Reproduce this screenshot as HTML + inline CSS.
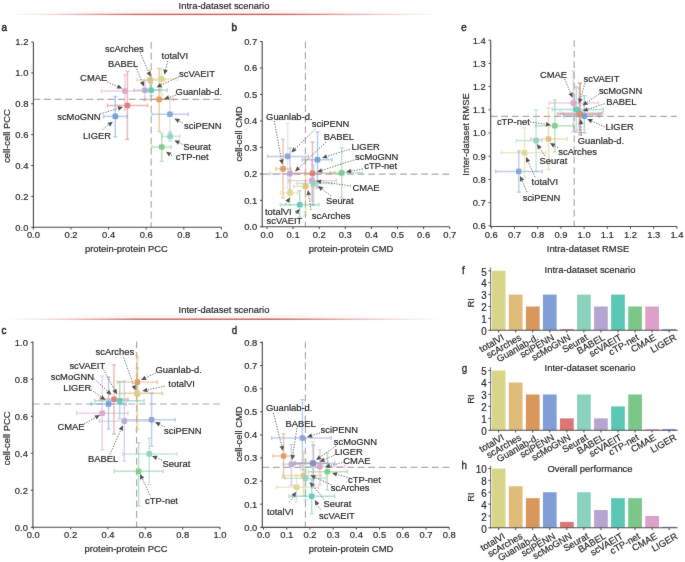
<!DOCTYPE html>
<html><head><meta charset="utf-8"><style>
html,body{margin:0;padding:0;background:#fff;width:685px;height:562px;overflow:hidden}
svg{display:block}
text{font-family:"Liberation Sans",sans-serif;stroke:#262626;stroke-width:0.18px}
</style></head><body><svg width="685" height="562" viewBox="0 0 685 562" font-family="Liberation Sans, sans-serif"><defs><filter id="bl" x="0" y="0" width="685" height="562" filterUnits="userSpaceOnUse" color-interpolation-filters="sRGB"><feConvolveMatrix order="3" kernelMatrix="1 2 1 2 36 2 1 2 1" edgeMode="duplicate" preserveAlpha="true"/></filter>
<linearGradient id="hl" x1="0" x2="1" y1="0" y2="0">
<stop offset="0" stop-color="#c85a50" stop-opacity="0"/>
<stop offset="0.1" stop-color="#c85a50" stop-opacity="0.2"/>
<stop offset="0.3" stop-color="#c24c45" stop-opacity="0.85"/>
<stop offset="0.62" stop-color="#c24c45" stop-opacity="0.9"/>
<stop offset="0.85" stop-color="#c85a50" stop-opacity="0.3"/>
<stop offset="1" stop-color="#c85a50" stop-opacity="0"/>
</linearGradient></defs><g filter="url(#bl)"><rect width="685" height="562" fill="#fff"/>
<line x1="151.2" y1="42" x2="151.2" y2="227.3" stroke="#a9a9a9" stroke-width="1.15" stroke-dasharray="6.8,3.8"/>
<line x1="33.4" y1="99.4" x2="221.4" y2="99.4" stroke="#a9a9a9" stroke-width="1.15" stroke-dasharray="6.8,3.8"/>
<g stroke="#da975c" stroke-width="1.45" opacity="0.5"><line x1="144.6" y1="99.4" x2="173.8" y2="99.4"/><line x1="144.6" y1="97.4" x2="144.6" y2="101.4"/><line x1="173.8" y1="97.4" x2="173.8" y2="101.4"/><g opacity="1.0"><line x1="159.2" y1="68.5" x2="159.2" y2="131.5"/><line x1="157.2" y1="68.5" x2="161.2" y2="68.5"/><line x1="157.2" y1="131.5" x2="161.2" y2="131.5"/></g></g>
<g stroke="#dc7672" stroke-width="1.45" opacity="0.5"><line x1="107.4" y1="105.5" x2="147.6" y2="105.5"/><line x1="107.4" y1="103.5" x2="107.4" y2="107.5"/><line x1="147.6" y1="103.5" x2="147.6" y2="107.5"/><g opacity="1.0"><line x1="127.4" y1="71.4" x2="127.4" y2="139.4"/><line x1="125.4" y1="71.4" x2="129.4" y2="71.4"/><line x1="125.4" y1="139.4" x2="129.4" y2="139.4"/></g></g>
<g stroke="#dba1c9" stroke-width="1.45" opacity="0.5"><line x1="101.6" y1="91" x2="151.1" y2="91"/><line x1="101.6" y1="89" x2="101.6" y2="93"/><line x1="151.1" y1="89" x2="151.1" y2="93"/><g opacity="1.0"><line x1="124.9" y1="74.6" x2="124.9" y2="110"/><line x1="122.9" y1="74.6" x2="126.9" y2="74.6"/><line x1="122.9" y1="110" x2="126.9" y2="110"/></g></g>
<g stroke="#6a9ad6" stroke-width="1.45" opacity="0.5"><line x1="103.5" y1="116.4" x2="126.8" y2="116.4"/><line x1="103.5" y1="114.4" x2="103.5" y2="118.4"/><line x1="126.8" y1="114.4" x2="126.8" y2="118.4"/><g opacity="1.0"><line x1="115.3" y1="96.5" x2="115.3" y2="136.8"/><line x1="113.3" y1="96.5" x2="117.3" y2="96.5"/><line x1="113.3" y1="136.8" x2="117.3" y2="136.8"/></g></g>
<g stroke="#819fd6" stroke-width="1.45" opacity="0.5"><line x1="151.9" y1="114.3" x2="188.2" y2="114.3"/><line x1="151.9" y1="112.3" x2="151.9" y2="116.3"/><line x1="188.2" y1="112.3" x2="188.2" y2="116.3"/><g opacity="0.5"><line x1="169.9" y1="97.7" x2="169.9" y2="132.4"/><line x1="167.9" y1="97.7" x2="171.9" y2="97.7"/><line x1="167.9" y1="132.4" x2="171.9" y2="132.4"/></g></g>
<g stroke="#e0bc7b" stroke-width="1.45" opacity="0.5"><line x1="136.6" y1="80.1" x2="165" y2="80.1"/><line x1="136.6" y1="78.1" x2="136.6" y2="82.1"/><line x1="165" y1="78.1" x2="165" y2="82.1"/><g opacity="1.0"><line x1="150.2" y1="70" x2="150.2" y2="92"/><line x1="148.2" y1="70" x2="152.2" y2="70"/><line x1="148.2" y1="92" x2="152.2" y2="92"/></g></g>
<g stroke="#d9d588" stroke-width="1.45" opacity="0.5"><line x1="148" y1="79" x2="176.8" y2="79"/><line x1="148" y1="77" x2="148" y2="81"/><line x1="176.8" y1="77" x2="176.8" y2="81"/><g opacity="1.0"><line x1="161.4" y1="68.5" x2="161.4" y2="95"/><line x1="159.4" y1="68.5" x2="163.4" y2="68.5"/><line x1="159.4" y1="95" x2="163.4" y2="95"/></g></g>
<g stroke="#b7a5d1" stroke-width="1.45" opacity="0.5"><line x1="134" y1="90.2" x2="160" y2="90.2"/><line x1="134" y1="88.2" x2="134" y2="92.2"/><line x1="160" y1="88.2" x2="160" y2="92.2"/><g opacity="1.0"><line x1="144.9" y1="80" x2="144.9" y2="100"/><line x1="142.9" y1="80" x2="146.9" y2="80"/><line x1="142.9" y1="100" x2="146.9" y2="100"/></g></g>
<g stroke="#5ac8b4" stroke-width="1.45" opacity="0.5"><line x1="143.2" y1="90.2" x2="167.3" y2="90.2"/><line x1="143.2" y1="88.2" x2="143.2" y2="92.2"/><line x1="167.3" y1="88.2" x2="167.3" y2="92.2"/><g opacity="1.0"><line x1="151.2" y1="83.4" x2="151.2" y2="95.8"/><line x1="149.2" y1="83.4" x2="153.2" y2="83.4"/><line x1="149.2" y1="95.8" x2="153.2" y2="95.8"/></g></g>
<g stroke="#8ad1be" stroke-width="1.45" opacity="0.5"><line x1="162.2" y1="136.4" x2="179.7" y2="136.4"/><line x1="162.2" y1="134.4" x2="162.2" y2="138.4"/><line x1="179.7" y1="134.4" x2="179.7" y2="138.4"/><g opacity="1.0"><line x1="170.1" y1="132" x2="170.1" y2="141"/><line x1="168.1" y1="132" x2="172.1" y2="132"/><line x1="168.1" y1="141" x2="172.1" y2="141"/></g></g>
<g stroke="#7bc788" stroke-width="1.45" opacity="0.5"><line x1="151.7" y1="147" x2="171" y2="147"/><line x1="151.7" y1="145" x2="151.7" y2="149"/><line x1="171" y1="145" x2="171" y2="149"/><g opacity="1.0"><line x1="161.7" y1="133.3" x2="161.7" y2="161.3"/><line x1="159.7" y1="133.3" x2="163.7" y2="133.3"/><line x1="159.7" y1="161.3" x2="163.7" y2="161.3"/></g></g>
<rect x="156.4" y="96.6" width="5.6" height="5.6" rx="1.3" fill="#da975c" opacity="0.88"/>
<rect x="124.6" y="102.7" width="5.6" height="5.6" rx="1.3" fill="#dc7672" opacity="0.88"/>
<rect x="122.1" y="88.2" width="5.6" height="5.6" rx="1.3" fill="#dba1c9" opacity="0.88"/>
<rect x="112.5" y="113.6" width="5.6" height="5.6" rx="1.3" fill="#6a9ad6" opacity="0.88"/>
<rect x="167.1" y="111.5" width="5.6" height="5.6" rx="1.3" fill="#819fd6" opacity="0.88"/>
<rect x="147.4" y="77.3" width="5.6" height="5.6" rx="1.3" fill="#e0bc7b" opacity="0.88"/>
<rect x="158.6" y="76.2" width="5.6" height="5.6" rx="1.3" fill="#d9d588" opacity="0.88"/>
<rect x="142.1" y="87.4" width="5.6" height="5.6" rx="1.3" fill="#b7a5d1" opacity="0.88"/>
<rect x="148.4" y="87.4" width="5.6" height="5.6" rx="1.3" fill="#5ac8b4" opacity="0.88"/>
<rect x="167.3" y="133.6" width="5.6" height="5.6" rx="1.3" fill="#8ad1be" opacity="0.88"/>
<rect x="158.9" y="144.2" width="5.6" height="5.6" rx="1.3" fill="#7bc788" opacity="0.88"/>
<line x1="140.1" y1="52.5" x2="148.93" y2="72.94" stroke="#6a6a6a" stroke-width="1" stroke-dasharray="1.3,1.4"/>
<polygon points="150.6,76.8 146.43,72.94 148.66,72.3 150.65,71.11" fill="#505050"/>
<line x1="167.7" y1="61" x2="165.38" y2="70.72" stroke="#6a6a6a" stroke-width="1" stroke-dasharray="1.3,1.4"/>
<polygon points="164.4,74.8 163.37,69.21 165.54,70.03 167.85,70.28" fill="#505050"/>
<line x1="135.5" y1="66.3" x2="142.38" y2="82.73" stroke="#6a6a6a" stroke-width="1" stroke-dasharray="1.3,1.4"/>
<polygon points="144,86.6 139.87,82.69 142.11,82.08 144.11,80.92" fill="#505050"/>
<line x1="178.8" y1="76.8" x2="160.3" y2="85.51" stroke="#6a6a6a" stroke-width="1" stroke-dasharray="1.3,1.4"/>
<polygon points="156.5,87.3 160.22,83 160.93,85.21 162.18,87.17" fill="#505050"/>
<line x1="107.2" y1="82" x2="118.45" y2="86.92" stroke="#6a6a6a" stroke-width="1" stroke-dasharray="1.3,1.4"/>
<polygon points="122.3,88.6 116.61,88.62 117.81,86.64 118.46,84.41" fill="#505050"/>
<line x1="176" y1="95" x2="167.98" y2="97.67" stroke="#6a6a6a" stroke-width="1" stroke-dasharray="1.3,1.4"/>
<polygon points="164,99 168.21,95.17 168.65,97.45 169.66,99.54" fill="#505050"/>
<line x1="100" y1="114" x2="118.98" y2="108.22" stroke="#6a6a6a" stroke-width="1" stroke-dasharray="1.3,1.4"/>
<polygon points="123,107 118.69,110.71 118.31,108.43 117.36,106.31" fill="#505050"/>
<line x1="182.7" y1="123" x2="178.07" y2="120.44" stroke="#6a6a6a" stroke-width="1" stroke-dasharray="1.3,1.4"/>
<polygon points="174.4,118.4 180.06,118.91 178.69,120.78 177.83,122.93" fill="#505050"/>
<line x1="102.5" y1="129.6" x2="109.45" y2="124.34" stroke="#6a6a6a" stroke-width="1" stroke-dasharray="1.3,1.4"/>
<polygon points="112.8,121.8 110.04,126.77 108.89,124.76 107.27,123.11" fill="#505050"/>
<line x1="182.7" y1="144.4" x2="178.18" y2="142.22" stroke="#6a6a6a" stroke-width="1" stroke-dasharray="1.3,1.4"/>
<polygon points="174.4,140.4 180.08,140.59 178.81,142.53 178.09,144.73" fill="#505050"/>
<line x1="172" y1="155.7" x2="169.49" y2="154.03" stroke="#6a6a6a" stroke-width="1" stroke-dasharray="1.3,1.4"/>
<polygon points="166,151.7 171.6,152.67 170.08,154.42 169.05,156.5" fill="#505050"/>
<text transform="translate(105.1 51.6) scale(1 1.06)" font-size="9.4" text-anchor="start" font-weight="normal" fill="#262626" stroke="#262626" stroke-width="0.18" >scArches</text>
<text transform="translate(161.6 59.1) scale(1 1.06)" font-size="9.4" text-anchor="start" font-weight="normal" fill="#262626" stroke="#262626" stroke-width="0.18" >totalVI</text>
<text transform="translate(107.9 66.6) scale(1 1.06)" font-size="9.4" text-anchor="start" font-weight="normal" fill="#262626" stroke="#262626" stroke-width="0.18" >BABEL</text>
<text transform="translate(179.1 76.6) scale(1 1.06)" font-size="9.4" text-anchor="start" font-weight="normal" fill="#262626" stroke="#262626" stroke-width="0.18" >scVAEIT</text>
<text transform="translate(80.1 81) scale(1 1.06)" font-size="9.4" text-anchor="start" font-weight="normal" fill="#262626" stroke="#262626" stroke-width="0.18" >CMAE</text>
<text transform="translate(175.6 94.6) scale(1 1.06)" font-size="9.4" text-anchor="start" font-weight="normal" fill="#262626" stroke="#262626" stroke-width="0.18" >Guanlab-d.</text>
<text transform="translate(57.2 119.9) scale(1 1.06)" font-size="9.4" text-anchor="start" font-weight="normal" fill="#262626" stroke="#262626" stroke-width="0.18" >scMoGNN</text>
<text transform="translate(184.1 128.6) scale(1 1.06)" font-size="9.4" text-anchor="start" font-weight="normal" fill="#262626" stroke="#262626" stroke-width="0.18" >sciPENN</text>
<text transform="translate(82.9 139.1) scale(1 1.06)" font-size="9.4" text-anchor="start" font-weight="normal" fill="#262626" stroke="#262626" stroke-width="0.18" >LIGER</text>
<text transform="translate(183.2 149.8) scale(1 1.06)" font-size="9.4" text-anchor="start" font-weight="normal" fill="#262626" stroke="#262626" stroke-width="0.18" >Seurat</text>
<text transform="translate(175.7 160.3) scale(1 1.06)" font-size="9.4" text-anchor="start" font-weight="normal" fill="#262626" stroke="#262626" stroke-width="0.18" >cTP-net</text>
<line x1="33.4" y1="42" x2="33.4" y2="227.8" stroke="#474747" stroke-width="1.1" />
<line x1="32.9" y1="227.3" x2="221.4" y2="227.3" stroke="#474747" stroke-width="1.1" />
<line x1="33.4" y1="227.3" x2="33.4" y2="229.5" stroke="#474747" stroke-width="1" />
<text transform="translate(33.4 238.3) scale(1 1.06)" font-size="9.4" text-anchor="middle" font-weight="normal" fill="#262626" stroke="#262626" stroke-width="0.18" >0.0</text>
<line x1="71" y1="227.3" x2="71" y2="229.5" stroke="#474747" stroke-width="1" />
<text transform="translate(71 238.3) scale(1 1.06)" font-size="9.4" text-anchor="middle" font-weight="normal" fill="#262626" stroke="#262626" stroke-width="0.18" >0.2</text>
<line x1="108.6" y1="227.3" x2="108.6" y2="229.5" stroke="#474747" stroke-width="1" />
<text transform="translate(108.6 238.3) scale(1 1.06)" font-size="9.4" text-anchor="middle" font-weight="normal" fill="#262626" stroke="#262626" stroke-width="0.18" >0.4</text>
<line x1="146.2" y1="227.3" x2="146.2" y2="229.5" stroke="#474747" stroke-width="1" />
<text transform="translate(146.2 238.3) scale(1 1.06)" font-size="9.4" text-anchor="middle" font-weight="normal" fill="#262626" stroke="#262626" stroke-width="0.18" >0.6</text>
<line x1="183.8" y1="227.3" x2="183.8" y2="229.5" stroke="#474747" stroke-width="1" />
<text transform="translate(183.8 238.3) scale(1 1.06)" font-size="9.4" text-anchor="middle" font-weight="normal" fill="#262626" stroke="#262626" stroke-width="0.18" >0.8</text>
<line x1="221.4" y1="227.3" x2="221.4" y2="229.5" stroke="#474747" stroke-width="1" />
<text transform="translate(221.4 238.3) scale(1 1.06)" font-size="9.4" text-anchor="middle" font-weight="normal" fill="#262626" stroke="#262626" stroke-width="0.18" >1.0</text>
<line x1="31.2" y1="227.3" x2="33.4" y2="227.3" stroke="#474747" stroke-width="1" />
<text transform="translate(28.4 230.6) scale(1 1.06)" font-size="9.4" text-anchor="end" font-weight="normal" fill="#262626" stroke="#262626" stroke-width="0.18" >0.0</text>
<line x1="31.2" y1="196.42" x2="33.4" y2="196.42" stroke="#474747" stroke-width="1" />
<text transform="translate(28.4 199.72) scale(1 1.06)" font-size="9.4" text-anchor="end" font-weight="normal" fill="#262626" stroke="#262626" stroke-width="0.18" >0.2</text>
<line x1="31.2" y1="165.54" x2="33.4" y2="165.54" stroke="#474747" stroke-width="1" />
<text transform="translate(28.4 168.84) scale(1 1.06)" font-size="9.4" text-anchor="end" font-weight="normal" fill="#262626" stroke="#262626" stroke-width="0.18" >0.4</text>
<line x1="31.2" y1="134.66" x2="33.4" y2="134.66" stroke="#474747" stroke-width="1" />
<text transform="translate(28.4 137.96) scale(1 1.06)" font-size="9.4" text-anchor="end" font-weight="normal" fill="#262626" stroke="#262626" stroke-width="0.18" >0.6</text>
<line x1="31.2" y1="103.78" x2="33.4" y2="103.78" stroke="#474747" stroke-width="1" />
<text transform="translate(28.4 107.08) scale(1 1.06)" font-size="9.4" text-anchor="end" font-weight="normal" fill="#262626" stroke="#262626" stroke-width="0.18" >0.8</text>
<line x1="31.2" y1="72.9" x2="33.4" y2="72.9" stroke="#474747" stroke-width="1" />
<text transform="translate(28.4 76.2) scale(1 1.06)" font-size="9.4" text-anchor="end" font-weight="normal" fill="#262626" stroke="#262626" stroke-width="0.18" >1.0</text>
<line x1="31.2" y1="42.02" x2="33.4" y2="42.02" stroke="#474747" stroke-width="1" />
<text transform="translate(28.4 45.32) scale(1 1.06)" font-size="9.4" text-anchor="end" font-weight="normal" fill="#262626" stroke="#262626" stroke-width="0.18" >1.2</text>
<text transform="translate(126.4 251.9) scale(1 1.06)" font-size="9.4" text-anchor="middle" font-weight="normal" fill="#262626" stroke="#262626" stroke-width="0.18" >protein-protein PCC</text>
<text x="7.2" y="136" font-size="9.4" text-anchor="middle" fill="#262626" transform="rotate(-90 7.2 136)" dy="3.3">cell-cell PCC</text>
<line x1="305.4" y1="41.5" x2="305.4" y2="226.8" stroke="#a9a9a9" stroke-width="1.15" stroke-dasharray="6.8,3.8"/>
<line x1="262.2" y1="174.1" x2="449.6" y2="174.1" stroke="#a9a9a9" stroke-width="1.15" stroke-dasharray="6.8,3.8"/>
<g stroke="#819fd6" stroke-width="1.45" opacity="0.5"><line x1="267.6" y1="156.4" x2="308.4" y2="156.4"/><line x1="267.6" y1="154.4" x2="267.6" y2="158.4"/><line x1="308.4" y1="154.4" x2="308.4" y2="158.4"/><g opacity="0.45"><line x1="287.6" y1="123.3" x2="287.6" y2="188"/><line x1="285.6" y1="123.3" x2="289.6" y2="123.3"/><line x1="285.6" y1="188" x2="289.6" y2="188"/></g></g>
<g stroke="#6a9ad6" stroke-width="1.45" opacity="0.5"><line x1="302.3" y1="159.7" x2="332.1" y2="159.7"/><line x1="302.3" y1="157.7" x2="302.3" y2="161.7"/><line x1="332.1" y1="157.7" x2="332.1" y2="161.7"/><g opacity="1.0"><line x1="317.5" y1="132" x2="317.5" y2="188"/><line x1="315.5" y1="132" x2="319.5" y2="132"/><line x1="315.5" y1="188" x2="319.5" y2="188"/></g></g>
<g stroke="#da975c" stroke-width="1.45" opacity="0.5"><line x1="275.7" y1="168.9" x2="290.9" y2="168.9"/><line x1="275.7" y1="166.9" x2="275.7" y2="170.9"/><line x1="290.9" y1="166.9" x2="290.9" y2="170.9"/><g opacity="1.0"><line x1="283" y1="139.4" x2="283" y2="197.8"/><line x1="281" y1="139.4" x2="285" y2="139.4"/><line x1="281" y1="197.8" x2="285" y2="197.8"/></g></g>
<g stroke="#b7a5d1" stroke-width="1.45" opacity="0.5"><line x1="270" y1="173.6" x2="305" y2="173.6"/><line x1="270" y1="171.6" x2="270" y2="175.6"/><line x1="305" y1="171.6" x2="305" y2="175.6"/><g opacity="1.0"><line x1="290" y1="147.9" x2="290" y2="189.9"/><line x1="288" y1="147.9" x2="292" y2="147.9"/><line x1="288" y1="189.9" x2="292" y2="189.9"/></g></g>
<g stroke="#dc7672" stroke-width="1.45" opacity="0.5"><line x1="290" y1="173.3" x2="335" y2="173.3"/><line x1="290" y1="171.3" x2="290" y2="175.3"/><line x1="335" y1="171.3" x2="335" y2="175.3"/><g opacity="1.0"><line x1="312.5" y1="142.2" x2="312.5" y2="205"/><line x1="310.5" y1="142.2" x2="314.5" y2="142.2"/><line x1="310.5" y1="205" x2="314.5" y2="205"/></g></g>
<g stroke="#7bc788" stroke-width="1.45" opacity="0.5"><line x1="330" y1="172.9" x2="361.9" y2="172.9"/><line x1="330" y1="170.9" x2="330" y2="174.9"/><line x1="361.9" y1="170.9" x2="361.9" y2="174.9"/><g opacity="1.0"><line x1="341.7" y1="147.9" x2="341.7" y2="197.8"/><line x1="339.7" y1="147.9" x2="343.7" y2="147.9"/><line x1="339.7" y1="197.8" x2="343.7" y2="197.8"/></g></g>
<g stroke="#dba1c9" stroke-width="1.45" opacity="0.5"><line x1="288.3" y1="180.6" x2="336.5" y2="180.6"/><line x1="288.3" y1="178.6" x2="288.3" y2="182.6"/><line x1="336.5" y1="178.6" x2="336.5" y2="182.6"/><g opacity="1.0"><line x1="311.9" y1="160" x2="311.9" y2="200"/><line x1="309.9" y1="160" x2="313.9" y2="160"/><line x1="309.9" y1="200" x2="313.9" y2="200"/></g></g>
<g stroke="#8ad1be" stroke-width="1.45" opacity="0.5"><line x1="297" y1="183.4" x2="332" y2="183.4"/><line x1="297" y1="181.4" x2="297" y2="185.4"/><line x1="332" y1="181.4" x2="332" y2="185.4"/><g opacity="1.0"><line x1="313.7" y1="165" x2="313.7" y2="205"/><line x1="311.7" y1="165" x2="315.7" y2="165"/><line x1="311.7" y1="205" x2="315.7" y2="205"/></g></g>
<g stroke="#e0bc7b" stroke-width="1.45" opacity="0.5"><line x1="293.5" y1="186.4" x2="317.2" y2="186.4"/><line x1="293.5" y1="184.4" x2="293.5" y2="188.4"/><line x1="317.2" y1="184.4" x2="317.2" y2="188.4"/><g opacity="1.0"><line x1="305.5" y1="157.5" x2="305.5" y2="215.3"/><line x1="303.5" y1="157.5" x2="307.5" y2="157.5"/><line x1="303.5" y1="215.3" x2="307.5" y2="215.3"/></g></g>
<g stroke="#d9d588" stroke-width="1.45" opacity="0.5"><line x1="280.4" y1="192.9" x2="297.9" y2="192.9"/><line x1="280.4" y1="190.9" x2="280.4" y2="194.9"/><line x1="297.9" y1="190.9" x2="297.9" y2="194.9"/><g opacity="1.0"><line x1="290" y1="180" x2="290" y2="205"/><line x1="288" y1="180" x2="292" y2="180"/><line x1="288" y1="205" x2="292" y2="205"/></g></g>
<g stroke="#5ac8b4" stroke-width="1.45" opacity="0.5"><line x1="280.4" y1="204.8" x2="319" y2="204.8"/><line x1="280.4" y1="202.8" x2="280.4" y2="206.8"/><line x1="319" y1="202.8" x2="319" y2="206.8"/><g opacity="1.0"><line x1="299.7" y1="190.8" x2="299.7" y2="217"/><line x1="297.7" y1="190.8" x2="301.7" y2="190.8"/><line x1="297.7" y1="217" x2="301.7" y2="217"/></g></g>
<rect x="284.8" y="153.6" width="5.6" height="5.6" rx="1.3" fill="#819fd6" opacity="0.88"/>
<rect x="314.7" y="156.9" width="5.6" height="5.6" rx="1.3" fill="#6a9ad6" opacity="0.88"/>
<rect x="280.2" y="166.1" width="5.6" height="5.6" rx="1.3" fill="#da975c" opacity="0.88"/>
<rect x="287.2" y="170.8" width="5.6" height="5.6" rx="1.3" fill="#b7a5d1" opacity="0.88"/>
<rect x="309.7" y="170.5" width="5.6" height="5.6" rx="1.3" fill="#dc7672" opacity="0.88"/>
<rect x="338.9" y="170.1" width="5.6" height="5.6" rx="1.3" fill="#7bc788" opacity="0.88"/>
<rect x="309.1" y="177.8" width="5.6" height="5.6" rx="1.3" fill="#dba1c9" opacity="0.88"/>
<rect x="310.9" y="180.6" width="5.6" height="5.6" rx="1.3" fill="#8ad1be" opacity="0.88"/>
<rect x="302.7" y="183.6" width="5.6" height="5.6" rx="1.3" fill="#e0bc7b" opacity="0.88"/>
<rect x="287.2" y="190.1" width="5.6" height="5.6" rx="1.3" fill="#d9d588" opacity="0.88"/>
<rect x="296.9" y="202" width="5.6" height="5.6" rx="1.3" fill="#5ac8b4" opacity="0.88"/>
<line x1="274.3" y1="121" x2="281.54" y2="160.47" stroke="#6a6a6a" stroke-width="1" stroke-dasharray="1.3,1.4"/>
<polygon points="282.3,164.6 279.1,159.9 281.42,159.78 283.62,159.07" fill="#505050"/>
<line x1="315.4" y1="129" x2="294.31" y2="149.47" stroke="#6a6a6a" stroke-width="1" stroke-dasharray="1.3,1.4"/>
<polygon points="291.3,152.4 293.43,147.13 294.82,148.99 296.63,150.43" fill="#505050"/>
<line x1="326" y1="142" x2="298.04" y2="168.6" stroke="#6a6a6a" stroke-width="1" stroke-dasharray="1.3,1.4"/>
<polygon points="295,171.5 297.18,166.25 298.55,168.12 300.35,169.58" fill="#505050"/>
<line x1="350" y1="149" x2="326" y2="156.71" stroke="#6a6a6a" stroke-width="1" stroke-dasharray="1.3,1.4"/>
<polygon points="322,158 326.25,154.22 326.66,156.5 327.65,158.6" fill="#505050"/>
<line x1="354" y1="160" x2="321" y2="170.7" stroke="#6a6a6a" stroke-width="1" stroke-dasharray="1.3,1.4"/>
<polygon points="317,172 321.24,168.21 321.66,170.49 322.66,172.58" fill="#505050"/>
<line x1="363" y1="169" x2="350.14" y2="171.27" stroke="#6a6a6a" stroke-width="1" stroke-dasharray="1.3,1.4"/>
<polygon points="346,172 350.72,168.83 350.83,171.15 351.52,173.36" fill="#505050"/>
<line x1="351" y1="186" x2="320.16" y2="181.59" stroke="#6a6a6a" stroke-width="1" stroke-dasharray="1.3,1.4"/>
<polygon points="316,181 321.47,179.46 320.85,181.69 320.82,184.01" fill="#505050"/>
<line x1="331" y1="196" x2="321.33" y2="188.56" stroke="#6a6a6a" stroke-width="1" stroke-dasharray="1.3,1.4"/>
<polygon points="318,186 323.52,187.35 321.88,188.99 320.72,190.99" fill="#505050"/>
<line x1="311" y1="210" x2="308.62" y2="194.15" stroke="#6a6a6a" stroke-width="1" stroke-dasharray="1.3,1.4"/>
<polygon points="308,190 311.05,194.8 308.73,194.85 306.5,195.48" fill="#505050"/>
<line x1="285.4" y1="204.5" x2="287.78" y2="200.9" stroke="#6a6a6a" stroke-width="1" stroke-dasharray="1.3,1.4"/>
<polygon points="290.1,197.4 289.15,203.01 287.4,201.49 285.31,200.47" fill="#505050"/>
<line x1="295.8" y1="214" x2="297.12" y2="212.19" stroke="#6a6a6a" stroke-width="1" stroke-dasharray="1.3,1.4"/>
<polygon points="299.6,208.8 298.39,214.36 296.71,212.76 294.67,211.64" fill="#505050"/>
<text transform="translate(266.1 119.5) scale(1 1.06)" font-size="9.4" text-anchor="start" font-weight="normal" fill="#262626" stroke="#262626" stroke-width="0.18" >Guanlab-d.</text>
<text transform="translate(311.8 127.2) scale(1 1.06)" font-size="9.4" text-anchor="start" font-weight="normal" fill="#262626" stroke="#262626" stroke-width="0.18" >sciPENN</text>
<text transform="translate(323.8 140) scale(1 1.06)" font-size="9.4" text-anchor="start" font-weight="normal" fill="#262626" stroke="#262626" stroke-width="0.18" >BABEL</text>
<text transform="translate(351.5 149.9) scale(1 1.06)" font-size="9.4" text-anchor="start" font-weight="normal" fill="#262626" stroke="#262626" stroke-width="0.18" >LIGER</text>
<text transform="translate(355 160.4) scale(1 1.06)" font-size="9.4" text-anchor="start" font-weight="normal" fill="#262626" stroke="#262626" stroke-width="0.18" >scMoGNN</text>
<text transform="translate(364.3 169.4) scale(1 1.06)" font-size="9.4" text-anchor="start" font-weight="normal" fill="#262626" stroke="#262626" stroke-width="0.18" >cTP-net</text>
<text transform="translate(352.4 190.8) scale(1 1.06)" font-size="9.4" text-anchor="start" font-weight="normal" fill="#262626" stroke="#262626" stroke-width="0.18" >CMAE</text>
<text transform="translate(325.9 204) scale(1 1.06)" font-size="9.4" text-anchor="start" font-weight="normal" fill="#262626" stroke="#262626" stroke-width="0.18" >Seurat</text>
<text transform="translate(311.8 218.5) scale(1 1.06)" font-size="9.4" text-anchor="start" font-weight="normal" fill="#262626" stroke="#262626" stroke-width="0.18" >scArches</text>
<text transform="translate(265 215) scale(1 1.06)" font-size="9.4" text-anchor="start" font-weight="normal" fill="#262626" stroke="#262626" stroke-width="0.18" >totalVI</text>
<text transform="translate(266.5 224.4) scale(1 1.06)" font-size="9.4" text-anchor="start" font-weight="normal" fill="#262626" stroke="#262626" stroke-width="0.18" >scVAEIT</text>
<line x1="262.2" y1="41.5" x2="262.2" y2="227.3" stroke="#474747" stroke-width="1.1" />
<line x1="261.7" y1="226.8" x2="449.6" y2="226.8" stroke="#474747" stroke-width="1.1" />
<line x1="267" y1="226.8" x2="267" y2="229" stroke="#474747" stroke-width="1" />
<text transform="translate(267 237.8) scale(1 1.06)" font-size="9.4" text-anchor="middle" font-weight="normal" fill="#262626" stroke="#262626" stroke-width="0.18" >0.0</text>
<line x1="293.1" y1="226.8" x2="293.1" y2="229" stroke="#474747" stroke-width="1" />
<text transform="translate(293.1 237.8) scale(1 1.06)" font-size="9.4" text-anchor="middle" font-weight="normal" fill="#262626" stroke="#262626" stroke-width="0.18" >0.1</text>
<line x1="319.2" y1="226.8" x2="319.2" y2="229" stroke="#474747" stroke-width="1" />
<text transform="translate(319.2 237.8) scale(1 1.06)" font-size="9.4" text-anchor="middle" font-weight="normal" fill="#262626" stroke="#262626" stroke-width="0.18" >0.2</text>
<line x1="345.3" y1="226.8" x2="345.3" y2="229" stroke="#474747" stroke-width="1" />
<text transform="translate(345.3 237.8) scale(1 1.06)" font-size="9.4" text-anchor="middle" font-weight="normal" fill="#262626" stroke="#262626" stroke-width="0.18" >0.3</text>
<line x1="371.4" y1="226.8" x2="371.4" y2="229" stroke="#474747" stroke-width="1" />
<text transform="translate(371.4 237.8) scale(1 1.06)" font-size="9.4" text-anchor="middle" font-weight="normal" fill="#262626" stroke="#262626" stroke-width="0.18" >0.4</text>
<line x1="397.5" y1="226.8" x2="397.5" y2="229" stroke="#474747" stroke-width="1" />
<text transform="translate(397.5 237.8) scale(1 1.06)" font-size="9.4" text-anchor="middle" font-weight="normal" fill="#262626" stroke="#262626" stroke-width="0.18" >0.5</text>
<line x1="423.6" y1="226.8" x2="423.6" y2="229" stroke="#474747" stroke-width="1" />
<text transform="translate(423.6 237.8) scale(1 1.06)" font-size="9.4" text-anchor="middle" font-weight="normal" fill="#262626" stroke="#262626" stroke-width="0.18" >0.6</text>
<line x1="449.7" y1="226.8" x2="449.7" y2="229" stroke="#474747" stroke-width="1" />
<text transform="translate(449.7 237.8) scale(1 1.06)" font-size="9.4" text-anchor="middle" font-weight="normal" fill="#262626" stroke="#262626" stroke-width="0.18" >0.7</text>
<line x1="260" y1="226.8" x2="262.2" y2="226.8" stroke="#474747" stroke-width="1" />
<text transform="translate(257.2 230.1) scale(1 1.06)" font-size="9.4" text-anchor="end" font-weight="normal" fill="#262626" stroke="#262626" stroke-width="0.18" >0.0</text>
<line x1="260" y1="200.33" x2="262.2" y2="200.33" stroke="#474747" stroke-width="1" />
<text transform="translate(257.2 203.63) scale(1 1.06)" font-size="9.4" text-anchor="end" font-weight="normal" fill="#262626" stroke="#262626" stroke-width="0.18" >0.1</text>
<line x1="260" y1="173.86" x2="262.2" y2="173.86" stroke="#474747" stroke-width="1" />
<text transform="translate(257.2 177.16) scale(1 1.06)" font-size="9.4" text-anchor="end" font-weight="normal" fill="#262626" stroke="#262626" stroke-width="0.18" >0.2</text>
<line x1="260" y1="147.39" x2="262.2" y2="147.39" stroke="#474747" stroke-width="1" />
<text transform="translate(257.2 150.69) scale(1 1.06)" font-size="9.4" text-anchor="end" font-weight="normal" fill="#262626" stroke="#262626" stroke-width="0.18" >0.3</text>
<line x1="260" y1="120.92" x2="262.2" y2="120.92" stroke="#474747" stroke-width="1" />
<text transform="translate(257.2 124.22) scale(1 1.06)" font-size="9.4" text-anchor="end" font-weight="normal" fill="#262626" stroke="#262626" stroke-width="0.18" >0.4</text>
<line x1="260" y1="94.45" x2="262.2" y2="94.45" stroke="#474747" stroke-width="1" />
<text transform="translate(257.2 97.75) scale(1 1.06)" font-size="9.4" text-anchor="end" font-weight="normal" fill="#262626" stroke="#262626" stroke-width="0.18" >0.5</text>
<line x1="260" y1="67.98" x2="262.2" y2="67.98" stroke="#474747" stroke-width="1" />
<text transform="translate(257.2 71.28) scale(1 1.06)" font-size="9.4" text-anchor="end" font-weight="normal" fill="#262626" stroke="#262626" stroke-width="0.18" >0.6</text>
<line x1="260" y1="41.51" x2="262.2" y2="41.51" stroke="#474747" stroke-width="1" />
<text transform="translate(257.2 44.81) scale(1 1.06)" font-size="9.4" text-anchor="end" font-weight="normal" fill="#262626" stroke="#262626" stroke-width="0.18" >0.7</text>
<text transform="translate(351 251.9) scale(1 1.06)" font-size="9.4" text-anchor="middle" font-weight="normal" fill="#262626" stroke="#262626" stroke-width="0.18" >protein-protein CMD</text>
<text x="239" y="134" font-size="9.4" text-anchor="middle" fill="#262626" transform="rotate(-90 239 134)" dy="3.3">cell-cell CMD</text>
<line x1="574.2" y1="40.2" x2="574.2" y2="226.5" stroke="#a9a9a9" stroke-width="1.15" stroke-dasharray="6.8,3.8"/>
<line x1="490.7" y1="116.4" x2="676.8" y2="116.4" stroke="#a9a9a9" stroke-width="1.15" stroke-dasharray="6.8,3.8"/>
<g stroke="#b7a5d1" stroke-width="1.45" opacity="0.5"><line x1="560" y1="113" x2="603" y2="113"/><line x1="560" y1="111" x2="560" y2="115"/><line x1="603" y1="111" x2="603" y2="115"/><g opacity="1.0"><line x1="579" y1="88" x2="579" y2="130"/><line x1="577" y1="88" x2="581" y2="88"/><line x1="577" y1="130" x2="581" y2="130"/></g></g>
<g stroke="#dc7672" stroke-width="1.45" opacity="0.5"><line x1="557.5" y1="114" x2="601.3" y2="114"/><line x1="557.5" y1="112" x2="557.5" y2="116"/><line x1="601.3" y1="112" x2="601.3" y2="116"/><g opacity="1.0"><line x1="580" y1="83.2" x2="580" y2="134.9"/><line x1="578" y1="83.2" x2="582" y2="83.2"/><line x1="578" y1="134.9" x2="582" y2="134.9"/></g></g>
<g stroke="#da975c" stroke-width="1.45" opacity="0.5"><line x1="563" y1="114.6" x2="598.5" y2="114.6"/><line x1="563" y1="112.6" x2="563" y2="116.6"/><line x1="598.5" y1="112.6" x2="598.5" y2="116.6"/><g opacity="1.0"><line x1="580" y1="83.2" x2="580" y2="133"/><line x1="578" y1="83.2" x2="582" y2="83.2"/><line x1="578" y1="133" x2="582" y2="133"/></g></g>
<g stroke="#dba1c9" stroke-width="1.45" opacity="0.5"><line x1="549.3" y1="103" x2="598.4" y2="103"/><line x1="549.3" y1="101" x2="549.3" y2="105"/><line x1="598.4" y1="101" x2="598.4" y2="105"/><g opacity="1.0"><line x1="573.4" y1="71" x2="573.4" y2="132"/><line x1="571.4" y1="71" x2="575.4" y2="71"/><line x1="571.4" y1="132" x2="575.4" y2="132"/></g></g>
<g stroke="#5ac8b4" stroke-width="1.45" opacity="0.5"><line x1="552.2" y1="109.5" x2="603.3" y2="109.5"/><line x1="552.2" y1="107.5" x2="552.2" y2="111.5"/><line x1="603.3" y1="107.5" x2="603.3" y2="111.5"/><g opacity="1.0"><line x1="576.3" y1="86.9" x2="576.3" y2="132.2"/><line x1="574.3" y1="86.9" x2="578.3" y2="86.9"/><line x1="574.3" y1="132.2" x2="578.3" y2="132.2"/></g></g>
<g stroke="#6a9ad6" stroke-width="1.45" opacity="0.5"><line x1="563.9" y1="116.2" x2="599.6" y2="116.2"/><line x1="563.9" y1="114.2" x2="563.9" y2="118.2"/><line x1="599.6" y1="114.2" x2="599.6" y2="118.2"/><g opacity="1.0"><line x1="584.3" y1="95.7" x2="584.3" y2="132.9"/><line x1="582.3" y1="95.7" x2="586.3" y2="95.7"/><line x1="582.3" y1="132.9" x2="586.3" y2="132.9"/></g></g>
<g stroke="#7bc788" stroke-width="1.45" opacity="0.5"><line x1="536" y1="125.7" x2="573.5" y2="125.7"/><line x1="536" y1="123.7" x2="536" y2="127.7"/><line x1="573.5" y1="123.7" x2="573.5" y2="127.7"/><g opacity="1.0"><line x1="554.8" y1="100" x2="554.8" y2="151.8"/><line x1="552.8" y1="100" x2="556.8" y2="100"/><line x1="552.8" y1="151.8" x2="556.8" y2="151.8"/></g></g>
<g stroke="#8ad1be" stroke-width="1.45" opacity="0.5"><line x1="516.5" y1="140.6" x2="542.3" y2="140.6"/><line x1="516.5" y1="138.6" x2="516.5" y2="142.6"/><line x1="542.3" y1="138.6" x2="542.3" y2="142.6"/><g opacity="1.0"><line x1="536.1" y1="110" x2="536.1" y2="171.4"/><line x1="534.1" y1="110" x2="538.1" y2="110"/><line x1="534.1" y1="171.4" x2="538.1" y2="171.4"/></g></g>
<g stroke="#e0bc7b" stroke-width="1.45" opacity="0.5"><line x1="530.7" y1="139" x2="567.2" y2="139"/><line x1="530.7" y1="137" x2="530.7" y2="141"/><line x1="567.2" y1="137" x2="567.2" y2="141"/><g opacity="1.0"><line x1="548.5" y1="108" x2="548.5" y2="169.6"/><line x1="546.5" y1="108" x2="550.5" y2="108"/><line x1="546.5" y1="169.6" x2="550.5" y2="169.6"/></g></g>
<g stroke="#d9d588" stroke-width="1.45" opacity="0.5"><line x1="501.4" y1="152.7" x2="545.9" y2="152.7"/><line x1="501.4" y1="150.7" x2="501.4" y2="154.7"/><line x1="545.9" y1="150.7" x2="545.9" y2="154.7"/><g opacity="1.0"><line x1="524.5" y1="127.8" x2="524.5" y2="176.8"/><line x1="522.5" y1="127.8" x2="526.5" y2="127.8"/><line x1="522.5" y1="176.8" x2="526.5" y2="176.8"/></g></g>
<g stroke="#819fd6" stroke-width="1.45" opacity="0.5"><line x1="495.7" y1="171.4" x2="542.3" y2="171.4"/><line x1="495.7" y1="169.4" x2="495.7" y2="173.4"/><line x1="542.3" y1="169.4" x2="542.3" y2="173.4"/><g opacity="1.0"><line x1="518.8" y1="151" x2="518.8" y2="192.2"/><line x1="516.8" y1="151" x2="520.8" y2="151"/><line x1="516.8" y1="192.2" x2="520.8" y2="192.2"/></g></g>
<rect x="576.2" y="110.2" width="5.6" height="5.6" rx="1.3" fill="#b7a5d1" opacity="0.88"/>
<rect x="577.2" y="111.2" width="5.6" height="5.6" rx="1.3" fill="#dc7672" opacity="0.88"/>
<rect x="577.2" y="111.8" width="5.6" height="5.6" rx="1.3" fill="#da975c" opacity="0.88"/>
<rect x="570.6" y="100.2" width="5.6" height="5.6" rx="1.3" fill="#dba1c9" opacity="0.88"/>
<rect x="573.5" y="106.7" width="5.6" height="5.6" rx="1.3" fill="#5ac8b4" opacity="0.88"/>
<rect x="581.5" y="113.4" width="5.6" height="5.6" rx="1.3" fill="#6a9ad6" opacity="0.88"/>
<rect x="552" y="122.9" width="5.6" height="5.6" rx="1.3" fill="#7bc788" opacity="0.88"/>
<rect x="533.3" y="137.8" width="5.6" height="5.6" rx="1.3" fill="#8ad1be" opacity="0.88"/>
<rect x="545.7" y="136.2" width="5.6" height="5.6" rx="1.3" fill="#e0bc7b" opacity="0.88"/>
<rect x="521.7" y="149.9" width="5.6" height="5.6" rx="1.3" fill="#d9d588" opacity="0.88"/>
<rect x="516" y="168.6" width="5.6" height="5.6" rx="1.3" fill="#819fd6" opacity="0.88"/>
<line x1="564.6" y1="78.9" x2="570.96" y2="93.93" stroke="#6a6a6a" stroke-width="1" stroke-dasharray="1.3,1.4"/>
<polygon points="572.6,97.8 568.45,93.91 570.69,93.29 572.69,92.11" fill="#505050"/>
<line x1="585" y1="83.2" x2="580.19" y2="99.47" stroke="#6a6a6a" stroke-width="1" stroke-dasharray="1.3,1.4"/>
<polygon points="579,103.5 578.27,97.86 580.39,98.8 582.68,99.17" fill="#505050"/>
<line x1="598.9" y1="94.2" x2="585.96" y2="103.12" stroke="#6a6a6a" stroke-width="1" stroke-dasharray="1.3,1.4"/>
<polygon points="582.5,105.5 585.48,100.66 586.53,102.72 588.09,104.44" fill="#505050"/>
<line x1="604.7" y1="103.7" x2="586.78" y2="109.67" stroke="#6a6a6a" stroke-width="1" stroke-dasharray="1.3,1.4"/>
<polygon points="582.8,111 587.01,107.17 587.45,109.45 588.46,111.54" fill="#505050"/>
<line x1="604.7" y1="127" x2="591.02" y2="120.75" stroke="#6a6a6a" stroke-width="1" stroke-dasharray="1.3,1.4"/>
<polygon points="587.2,119 592.89,119.07 591.66,121.04 590.97,123.25" fill="#505050"/>
<line x1="581.4" y1="135.8" x2="580.87" y2="123.2" stroke="#6a6a6a" stroke-width="1" stroke-dasharray="1.3,1.4"/>
<polygon points="580.7,119 583.21,124.1 580.9,123.9 578.62,124.29" fill="#505050"/>
<line x1="530" y1="122" x2="546.84" y2="124.41" stroke="#6a6a6a" stroke-width="1" stroke-dasharray="1.3,1.4"/>
<polygon points="551,125 545.53,126.54 546.15,124.31 546.18,121.99" fill="#505050"/>
<line x1="558" y1="148" x2="553.56" y2="145.23" stroke="#6a6a6a" stroke-width="1" stroke-dasharray="1.3,1.4"/>
<polygon points="550,143 555.63,143.81 554.16,145.6 553.19,147.71" fill="#505050"/>
<line x1="545" y1="156" x2="539.33" y2="147.49" stroke="#6a6a6a" stroke-width="1" stroke-dasharray="1.3,1.4"/>
<polygon points="537,144 541.8,147.05 539.72,148.08 537.97,149.6" fill="#505050"/>
<line x1="535" y1="177" x2="527.72" y2="160.83" stroke="#6a6a6a" stroke-width="1" stroke-dasharray="1.3,1.4"/>
<polygon points="526,157 530.23,160.8 528.01,161.47 526.04,162.69" fill="#505050"/>
<line x1="527" y1="192" x2="521.68" y2="179.85" stroke="#6a6a6a" stroke-width="1" stroke-dasharray="1.3,1.4"/>
<polygon points="520,176 524.19,179.84 521.96,180.49 519.98,181.69" fill="#505050"/>
<text transform="translate(540 77.8) scale(1 1.06)" font-size="9.4" text-anchor="start" font-weight="normal" fill="#262626" stroke="#262626" stroke-width="0.18" >CMAE</text>
<text transform="translate(583.6 82.3) scale(1 1.06)" font-size="9.4" text-anchor="start" font-weight="normal" fill="#262626" stroke="#262626" stroke-width="0.18" >scVAEIT</text>
<text transform="translate(598.9 94.4) scale(1 1.06)" font-size="9.4" text-anchor="start" font-weight="normal" fill="#262626" stroke="#262626" stroke-width="0.18" >scMoGNN</text>
<text transform="translate(606.2 104.9) scale(1 1.06)" font-size="9.4" text-anchor="start" font-weight="normal" fill="#262626" stroke="#262626" stroke-width="0.18" >BABEL</text>
<text transform="translate(605.5 130.4) scale(1 1.06)" font-size="9.4" text-anchor="start" font-weight="normal" fill="#262626" stroke="#262626" stroke-width="0.18" >LIGER</text>
<text transform="translate(577.7 143.6) scale(1 1.06)" font-size="9.4" text-anchor="start" font-weight="normal" fill="#262626" stroke="#262626" stroke-width="0.18" >Guanlab-d.</text>
<text transform="translate(496.9 125) scale(1 1.06)" font-size="9.4" text-anchor="start" font-weight="normal" fill="#262626" stroke="#262626" stroke-width="0.18" >cTP-net</text>
<text transform="translate(558.3 155.2) scale(1 1.06)" font-size="9.4" text-anchor="start" font-weight="normal" fill="#262626" stroke="#262626" stroke-width="0.18" >scArches</text>
<text transform="translate(539.6 164.1) scale(1 1.06)" font-size="9.4" text-anchor="start" font-weight="normal" fill="#262626" stroke="#262626" stroke-width="0.18" >Seurat</text>
<text transform="translate(531.6 184.6) scale(1 1.06)" font-size="9.4" text-anchor="start" font-weight="normal" fill="#262626" stroke="#262626" stroke-width="0.18" >totalVI</text>
<text transform="translate(522.7 201) scale(1 1.06)" font-size="9.4" text-anchor="start" font-weight="normal" fill="#262626" stroke="#262626" stroke-width="0.18" >sciPENN</text>
<line x1="490.7" y1="40.2" x2="490.7" y2="227" stroke="#474747" stroke-width="1.1" />
<line x1="490.2" y1="226.5" x2="676.8" y2="226.5" stroke="#474747" stroke-width="1.1" />
<line x1="491.3" y1="226.5" x2="491.3" y2="228.7" stroke="#474747" stroke-width="1" />
<text transform="translate(491.3 237.5) scale(1 1.06)" font-size="9.4" text-anchor="middle" font-weight="normal" fill="#262626" stroke="#262626" stroke-width="0.18" >0.6</text>
<line x1="514.5" y1="226.5" x2="514.5" y2="228.7" stroke="#474747" stroke-width="1" />
<text transform="translate(514.5 237.5) scale(1 1.06)" font-size="9.4" text-anchor="middle" font-weight="normal" fill="#262626" stroke="#262626" stroke-width="0.18" >0.7</text>
<line x1="537.7" y1="226.5" x2="537.7" y2="228.7" stroke="#474747" stroke-width="1" />
<text transform="translate(537.7 237.5) scale(1 1.06)" font-size="9.4" text-anchor="middle" font-weight="normal" fill="#262626" stroke="#262626" stroke-width="0.18" >0.8</text>
<line x1="560.9" y1="226.5" x2="560.9" y2="228.7" stroke="#474747" stroke-width="1" />
<text transform="translate(560.9 237.5) scale(1 1.06)" font-size="9.4" text-anchor="middle" font-weight="normal" fill="#262626" stroke="#262626" stroke-width="0.18" >0.9</text>
<line x1="584.1" y1="226.5" x2="584.1" y2="228.7" stroke="#474747" stroke-width="1" />
<text transform="translate(584.1 237.5) scale(1 1.06)" font-size="9.4" text-anchor="middle" font-weight="normal" fill="#262626" stroke="#262626" stroke-width="0.18" >1.0</text>
<line x1="607.3" y1="226.5" x2="607.3" y2="228.7" stroke="#474747" stroke-width="1" />
<text transform="translate(607.3 237.5) scale(1 1.06)" font-size="9.4" text-anchor="middle" font-weight="normal" fill="#262626" stroke="#262626" stroke-width="0.18" >1.1</text>
<line x1="630.5" y1="226.5" x2="630.5" y2="228.7" stroke="#474747" stroke-width="1" />
<text transform="translate(630.5 237.5) scale(1 1.06)" font-size="9.4" text-anchor="middle" font-weight="normal" fill="#262626" stroke="#262626" stroke-width="0.18" >1.2</text>
<line x1="653.7" y1="226.5" x2="653.7" y2="228.7" stroke="#474747" stroke-width="1" />
<text transform="translate(653.7 237.5) scale(1 1.06)" font-size="9.4" text-anchor="middle" font-weight="normal" fill="#262626" stroke="#262626" stroke-width="0.18" >1.3</text>
<line x1="676.9" y1="226.5" x2="676.9" y2="228.7" stroke="#474747" stroke-width="1" />
<text transform="translate(676.9 237.5) scale(1 1.06)" font-size="9.4" text-anchor="middle" font-weight="normal" fill="#262626" stroke="#262626" stroke-width="0.18" >1.4</text>
<line x1="488.5" y1="225.8" x2="490.7" y2="225.8" stroke="#474747" stroke-width="1" />
<text transform="translate(485.7 229.1) scale(1 1.06)" font-size="9.4" text-anchor="end" font-weight="normal" fill="#262626" stroke="#262626" stroke-width="0.18" >0.6</text>
<line x1="488.5" y1="202.6" x2="490.7" y2="202.6" stroke="#474747" stroke-width="1" />
<text transform="translate(485.7 205.9) scale(1 1.06)" font-size="9.4" text-anchor="end" font-weight="normal" fill="#262626" stroke="#262626" stroke-width="0.18" >0.7</text>
<line x1="488.5" y1="179.4" x2="490.7" y2="179.4" stroke="#474747" stroke-width="1" />
<text transform="translate(485.7 182.7) scale(1 1.06)" font-size="9.4" text-anchor="end" font-weight="normal" fill="#262626" stroke="#262626" stroke-width="0.18" >0.8</text>
<line x1="488.5" y1="156.2" x2="490.7" y2="156.2" stroke="#474747" stroke-width="1" />
<text transform="translate(485.7 159.5) scale(1 1.06)" font-size="9.4" text-anchor="end" font-weight="normal" fill="#262626" stroke="#262626" stroke-width="0.18" >0.9</text>
<line x1="488.5" y1="133" x2="490.7" y2="133" stroke="#474747" stroke-width="1" />
<text transform="translate(485.7 136.3) scale(1 1.06)" font-size="9.4" text-anchor="end" font-weight="normal" fill="#262626" stroke="#262626" stroke-width="0.18" >1.0</text>
<line x1="488.5" y1="109.8" x2="490.7" y2="109.8" stroke="#474747" stroke-width="1" />
<text transform="translate(485.7 113.1) scale(1 1.06)" font-size="9.4" text-anchor="end" font-weight="normal" fill="#262626" stroke="#262626" stroke-width="0.18" >1.1</text>
<line x1="488.5" y1="86.6" x2="490.7" y2="86.6" stroke="#474747" stroke-width="1" />
<text transform="translate(485.7 89.9) scale(1 1.06)" font-size="9.4" text-anchor="end" font-weight="normal" fill="#262626" stroke="#262626" stroke-width="0.18" >1.2</text>
<line x1="488.5" y1="63.4" x2="490.7" y2="63.4" stroke="#474747" stroke-width="1" />
<text transform="translate(485.7 66.7) scale(1 1.06)" font-size="9.4" text-anchor="end" font-weight="normal" fill="#262626" stroke="#262626" stroke-width="0.18" >1.3</text>
<line x1="488.5" y1="40.2" x2="490.7" y2="40.2" stroke="#474747" stroke-width="1" />
<text transform="translate(485.7 43.5) scale(1 1.06)" font-size="9.4" text-anchor="end" font-weight="normal" fill="#262626" stroke="#262626" stroke-width="0.18" >1.4</text>
<text transform="translate(588 251.9) scale(1 1.06)" font-size="9.4" text-anchor="middle" font-weight="normal" fill="#262626" stroke="#262626" stroke-width="0.18" >Intra-dataset RMSE</text>
<text x="465.8" y="134.5" font-size="9.4" text-anchor="middle" fill="#262626" transform="rotate(-90 465.8 134.5)" dy="3.3">Inter-dataset RMSE</text>
<line x1="136.6" y1="341.4" x2="136.6" y2="527.3" stroke="#a9a9a9" stroke-width="1.15" stroke-dasharray="6.8,3.8"/>
<line x1="32.9" y1="404" x2="220" y2="404" stroke="#a9a9a9" stroke-width="1.15" stroke-dasharray="6.8,3.8"/>
<g stroke="#e0bc7b" stroke-width="1.45" opacity="0.5"><line x1="120" y1="393.3" x2="162" y2="393.3"/><line x1="120" y1="391.3" x2="120" y2="395.3"/><line x1="162" y1="391.3" x2="162" y2="395.3"/><g opacity="1.0"><line x1="137" y1="356" x2="137" y2="430"/><line x1="135" y1="356" x2="139" y2="356"/><line x1="135" y1="430" x2="139" y2="430"/></g></g>
<g stroke="#da975c" stroke-width="1.45" opacity="0.5"><line x1="117.4" y1="382.1" x2="157.3" y2="382.1"/><line x1="117.4" y1="380.1" x2="117.4" y2="384.1"/><line x1="157.3" y1="380.1" x2="157.3" y2="384.1"/><g opacity="1.0"><line x1="137.4" y1="368" x2="137.4" y2="396"/><line x1="135.4" y1="368" x2="139.4" y2="368"/><line x1="135.4" y1="396" x2="139.4" y2="396"/></g></g>
<g stroke="#d9d588" stroke-width="1.45" opacity="0.5"><line x1="118.4" y1="393.5" x2="163" y2="393.5"/><line x1="118.4" y1="391.5" x2="118.4" y2="395.5"/><line x1="163" y1="391.5" x2="163" y2="395.5"/><g opacity="1.0"><line x1="137.4" y1="358" x2="137.4" y2="429.2"/><line x1="135.4" y1="358" x2="139.4" y2="358"/><line x1="135.4" y1="429.2" x2="139.4" y2="429.2"/></g></g>
<g stroke="#6a9ad6" stroke-width="1.45" opacity="0.5"><line x1="91.2" y1="404" x2="126.1" y2="404"/><line x1="91.2" y1="402" x2="91.2" y2="406"/><line x1="126.1" y1="402" x2="126.1" y2="406"/><g opacity="1.0"><line x1="108.5" y1="377" x2="108.5" y2="429"/><line x1="106.5" y1="377" x2="110.5" y2="377"/><line x1="106.5" y1="429" x2="110.5" y2="429"/></g></g>
<g stroke="#dc7672" stroke-width="1.45" opacity="0.5"><line x1="100" y1="399.2" x2="128" y2="399.2"/><line x1="100" y1="397.2" x2="100" y2="401.2"/><line x1="128" y1="397.2" x2="128" y2="401.2"/><g opacity="1.0"><line x1="114" y1="364.7" x2="114" y2="434"/><line x1="112" y1="364.7" x2="116" y2="364.7"/><line x1="112" y1="434" x2="116" y2="434"/></g></g>
<g stroke="#5ac8b4" stroke-width="1.45" opacity="0.5"><line x1="94.7" y1="400.7" x2="144" y2="400.7"/><line x1="94.7" y1="398.7" x2="94.7" y2="402.7"/><line x1="144" y1="398.7" x2="144" y2="402.7"/><g opacity="1.0"><line x1="119.7" y1="381.8" x2="119.7" y2="418.8"/><line x1="117.7" y1="381.8" x2="121.7" y2="381.8"/><line x1="117.7" y1="418.8" x2="121.7" y2="418.8"/></g></g>
<g stroke="#dba1c9" stroke-width="1.45" opacity="0.5"><line x1="76.6" y1="413.2" x2="127.9" y2="413.2"/><line x1="76.6" y1="411.2" x2="76.6" y2="415.2"/><line x1="127.9" y1="411.2" x2="127.9" y2="415.2"/><g opacity="1.0"><line x1="102.2" y1="376" x2="102.2" y2="449.7"/><line x1="100.2" y1="376" x2="104.2" y2="376"/><line x1="100.2" y1="449.7" x2="104.2" y2="449.7"/></g></g>
<g stroke="#b7a5d1" stroke-width="1.45" opacity="0.5"><line x1="99.4" y1="421.1" x2="151.6" y2="421.1"/><line x1="99.4" y1="419.1" x2="99.4" y2="423.1"/><line x1="151.6" y1="419.1" x2="151.6" y2="423.1"/><g opacity="1.0"><line x1="124.3" y1="381" x2="124.3" y2="460.9"/><line x1="122.3" y1="381" x2="126.3" y2="381"/><line x1="122.3" y1="460.9" x2="126.3" y2="460.9"/></g></g>
<g stroke="#819fd6" stroke-width="1.45" opacity="0.5"><line x1="125" y1="419.8" x2="175.3" y2="419.8"/><line x1="125" y1="417.8" x2="125" y2="421.8"/><line x1="175.3" y1="417.8" x2="175.3" y2="421.8"/><g opacity="1.0"><line x1="151.6" y1="393" x2="151.6" y2="446.2"/><line x1="149.6" y1="393" x2="153.6" y2="393"/><line x1="149.6" y1="446.2" x2="153.6" y2="446.2"/></g></g>
<g stroke="#8ad1be" stroke-width="1.45" opacity="0.5"><line x1="122.9" y1="453.9" x2="176.7" y2="453.9"/><line x1="122.9" y1="451.9" x2="122.9" y2="455.9"/><line x1="176.7" y1="451.9" x2="176.7" y2="455.9"/><g opacity="1.0"><line x1="149.3" y1="438" x2="149.3" y2="484.7"/><line x1="147.3" y1="438" x2="151.3" y2="438"/><line x1="147.3" y1="484.7" x2="151.3" y2="484.7"/></g></g>
<g stroke="#7bc788" stroke-width="1.45" opacity="0.5"><line x1="114.3" y1="471.2" x2="163.3" y2="471.2"/><line x1="114.3" y1="469.2" x2="114.3" y2="473.2"/><line x1="163.3" y1="469.2" x2="163.3" y2="473.2"/><g opacity="1.0"><line x1="138.6" y1="442.7" x2="138.6" y2="506"/><line x1="136.6" y1="442.7" x2="140.6" y2="442.7"/><line x1="136.6" y1="506" x2="140.6" y2="506"/></g></g>
<rect x="134.2" y="390.5" width="5.6" height="5.6" rx="1.3" fill="#e0bc7b" opacity="0.88"/>
<rect x="134.6" y="379.3" width="5.6" height="5.6" rx="1.3" fill="#da975c" opacity="0.88"/>
<rect x="134.6" y="390.7" width="5.6" height="5.6" rx="1.3" fill="#d9d588" opacity="0.88"/>
<rect x="105.7" y="401.2" width="5.6" height="5.6" rx="1.3" fill="#6a9ad6" opacity="0.88"/>
<rect x="111.2" y="396.4" width="5.6" height="5.6" rx="1.3" fill="#dc7672" opacity="0.88"/>
<rect x="116.9" y="397.9" width="5.6" height="5.6" rx="1.3" fill="#5ac8b4" opacity="0.88"/>
<rect x="99.4" y="410.4" width="5.6" height="5.6" rx="1.3" fill="#dba1c9" opacity="0.88"/>
<rect x="121.5" y="418.3" width="5.6" height="5.6" rx="1.3" fill="#b7a5d1" opacity="0.88"/>
<rect x="148.8" y="417" width="5.6" height="5.6" rx="1.3" fill="#819fd6" opacity="0.88"/>
<rect x="146.5" y="451.1" width="5.6" height="5.6" rx="1.3" fill="#8ad1be" opacity="0.88"/>
<rect x="135.8" y="468.4" width="5.6" height="5.6" rx="1.3" fill="#7bc788" opacity="0.88"/>
<line x1="123.6" y1="357.5" x2="134.08" y2="386.55" stroke="#6a6a6a" stroke-width="1" stroke-dasharray="1.3,1.4"/>
<polygon points="135.5,390.5 131.57,386.39 133.84,385.89 135.9,384.83" fill="#505050"/>
<line x1="103.5" y1="369.5" x2="115" y2="390.71" stroke="#6a6a6a" stroke-width="1" stroke-dasharray="1.3,1.4"/>
<polygon points="117,394.4 112.5,390.92 114.66,390.09 116.54,388.73" fill="#505050"/>
<line x1="94.3" y1="378.7" x2="108.36" y2="392.1" stroke="#6a6a6a" stroke-width="1" stroke-dasharray="1.3,1.4"/>
<polygon points="111.4,395 106.05,393.08 107.85,391.62 109.22,389.75" fill="#505050"/>
<line x1="91" y1="389.8" x2="102.06" y2="397.58" stroke="#6a6a6a" stroke-width="1" stroke-dasharray="1.3,1.4"/>
<polygon points="105.5,400 99.92,398.89 101.49,397.18 102.57,395.13" fill="#505050"/>
<line x1="156" y1="373" x2="144.81" y2="378.22" stroke="#6a6a6a" stroke-width="1" stroke-dasharray="1.3,1.4"/>
<polygon points="141,380 144.74,375.72 145.44,377.93 146.68,379.89" fill="#505050"/>
<line x1="164.8" y1="386.1" x2="146.4" y2="390.19" stroke="#6a6a6a" stroke-width="1" stroke-dasharray="1.3,1.4"/>
<polygon points="142.3,391.1 146.88,387.73 147.08,390.04 147.88,392.22" fill="#505050"/>
<line x1="84" y1="424" x2="96.34" y2="417.06" stroke="#6a6a6a" stroke-width="1" stroke-dasharray="1.3,1.4"/>
<polygon points="100,415 96.6,419.55 95.73,417.4 94.34,415.54" fill="#505050"/>
<line x1="165" y1="427" x2="158.76" y2="423.88" stroke="#6a6a6a" stroke-width="1" stroke-dasharray="1.3,1.4"/>
<polygon points="155,422 160.68,422.27 159.38,424.19 158.62,426.38" fill="#505050"/>
<line x1="110" y1="454.4" x2="121.2" y2="429.04" stroke="#6a6a6a" stroke-width="1" stroke-dasharray="1.3,1.4"/>
<polygon points="122.9,425.2 122.9,430.89 120.92,429.68 118.69,429.03" fill="#505050"/>
<line x1="162" y1="460" x2="155.9" y2="457.56" stroke="#6a6a6a" stroke-width="1" stroke-dasharray="1.3,1.4"/>
<polygon points="152,456 157.68,455.8 156.55,457.82 155.97,460.07" fill="#505050"/>
<line x1="150" y1="495" x2="141.81" y2="477.79" stroke="#6a6a6a" stroke-width="1" stroke-dasharray="1.3,1.4"/>
<polygon points="140,474 144.31,477.71 142.11,478.42 140.16,479.68" fill="#505050"/>
<text transform="translate(95.6 355.2) scale(1 1.06)" font-size="9.4" text-anchor="start" font-weight="normal" fill="#262626" stroke="#262626" stroke-width="0.18" >scArches</text>
<text transform="translate(69.4 369.4) scale(1 1.06)" font-size="9.4" text-anchor="start" font-weight="normal" fill="#262626" stroke="#262626" stroke-width="0.18" >scVAEIT</text>
<text transform="translate(50.7 380.4) scale(1 1.06)" font-size="9.4" text-anchor="start" font-weight="normal" fill="#262626" stroke="#262626" stroke-width="0.18" >scMoGNN</text>
<text transform="translate(63.2 390.7) scale(1 1.06)" font-size="9.4" text-anchor="start" font-weight="normal" fill="#262626" stroke="#262626" stroke-width="0.18" >LIGER</text>
<text transform="translate(155.4 372.8) scale(1 1.06)" font-size="9.4" text-anchor="start" font-weight="normal" fill="#262626" stroke="#262626" stroke-width="0.18" >Guanlab-d.</text>
<text transform="translate(168.3 386.7) scale(1 1.06)" font-size="9.4" text-anchor="start" font-weight="normal" fill="#262626" stroke="#262626" stroke-width="0.18" >totalVI</text>
<text transform="translate(57.5 430.2) scale(1 1.06)" font-size="9.4" text-anchor="start" font-weight="normal" fill="#262626" stroke="#262626" stroke-width="0.18" >CMAE</text>
<text transform="translate(164 433.6) scale(1 1.06)" font-size="9.4" text-anchor="start" font-weight="normal" fill="#262626" stroke="#262626" stroke-width="0.18" >sciPENN</text>
<text transform="translate(87.9 462.4) scale(1 1.06)" font-size="9.4" text-anchor="start" font-weight="normal" fill="#262626" stroke="#262626" stroke-width="0.18" >BABEL</text>
<text transform="translate(162.6 466.7) scale(1 1.06)" font-size="9.4" text-anchor="start" font-weight="normal" fill="#262626" stroke="#262626" stroke-width="0.18" >Seurat</text>
<text transform="translate(145.1 504) scale(1 1.06)" font-size="9.4" text-anchor="start" font-weight="normal" fill="#262626" stroke="#262626" stroke-width="0.18" >cTP-net</text>
<line x1="32.9" y1="341.4" x2="32.9" y2="527.8" stroke="#474747" stroke-width="1.1" />
<line x1="32.4" y1="527.3" x2="220" y2="527.3" stroke="#474747" stroke-width="1.1" />
<line x1="33.3" y1="527.3" x2="33.3" y2="529.5" stroke="#474747" stroke-width="1" />
<text transform="translate(33.3 538.3) scale(1 1.06)" font-size="9.4" text-anchor="middle" font-weight="normal" fill="#262626" stroke="#262626" stroke-width="0.18" >0.0</text>
<line x1="70.64" y1="527.3" x2="70.64" y2="529.5" stroke="#474747" stroke-width="1" />
<text transform="translate(70.64 538.3) scale(1 1.06)" font-size="9.4" text-anchor="middle" font-weight="normal" fill="#262626" stroke="#262626" stroke-width="0.18" >0.2</text>
<line x1="107.98" y1="527.3" x2="107.98" y2="529.5" stroke="#474747" stroke-width="1" />
<text transform="translate(107.98 538.3) scale(1 1.06)" font-size="9.4" text-anchor="middle" font-weight="normal" fill="#262626" stroke="#262626" stroke-width="0.18" >0.4</text>
<line x1="145.32" y1="527.3" x2="145.32" y2="529.5" stroke="#474747" stroke-width="1" />
<text transform="translate(145.32 538.3) scale(1 1.06)" font-size="9.4" text-anchor="middle" font-weight="normal" fill="#262626" stroke="#262626" stroke-width="0.18" >0.6</text>
<line x1="182.66" y1="527.3" x2="182.66" y2="529.5" stroke="#474747" stroke-width="1" />
<text transform="translate(182.66 538.3) scale(1 1.06)" font-size="9.4" text-anchor="middle" font-weight="normal" fill="#262626" stroke="#262626" stroke-width="0.18" >0.8</text>
<line x1="220" y1="527.3" x2="220" y2="529.5" stroke="#474747" stroke-width="1" />
<text transform="translate(220 538.3) scale(1 1.06)" font-size="9.4" text-anchor="middle" font-weight="normal" fill="#262626" stroke="#262626" stroke-width="0.18" >1.0</text>
<line x1="30.7" y1="527.3" x2="32.9" y2="527.3" stroke="#474747" stroke-width="1" />
<text transform="translate(27.9 530.6) scale(1 1.06)" font-size="9.4" text-anchor="end" font-weight="normal" fill="#262626" stroke="#262626" stroke-width="0.18" >0.0</text>
<line x1="30.7" y1="490.3" x2="32.9" y2="490.3" stroke="#474747" stroke-width="1" />
<text transform="translate(27.9 493.6) scale(1 1.06)" font-size="9.4" text-anchor="end" font-weight="normal" fill="#262626" stroke="#262626" stroke-width="0.18" >0.2</text>
<line x1="30.7" y1="453.3" x2="32.9" y2="453.3" stroke="#474747" stroke-width="1" />
<text transform="translate(27.9 456.6) scale(1 1.06)" font-size="9.4" text-anchor="end" font-weight="normal" fill="#262626" stroke="#262626" stroke-width="0.18" >0.4</text>
<line x1="30.7" y1="416.3" x2="32.9" y2="416.3" stroke="#474747" stroke-width="1" />
<text transform="translate(27.9 419.6) scale(1 1.06)" font-size="9.4" text-anchor="end" font-weight="normal" fill="#262626" stroke="#262626" stroke-width="0.18" >0.6</text>
<line x1="30.7" y1="379.3" x2="32.9" y2="379.3" stroke="#474747" stroke-width="1" />
<text transform="translate(27.9 382.6) scale(1 1.06)" font-size="9.4" text-anchor="end" font-weight="normal" fill="#262626" stroke="#262626" stroke-width="0.18" >0.8</text>
<line x1="30.7" y1="342.3" x2="32.9" y2="342.3" stroke="#474747" stroke-width="1" />
<text transform="translate(27.9 345.6) scale(1 1.06)" font-size="9.4" text-anchor="end" font-weight="normal" fill="#262626" stroke="#262626" stroke-width="0.18" >1.0</text>
<text transform="translate(126 551.9) scale(1 1.06)" font-size="9.4" text-anchor="middle" font-weight="normal" fill="#262626" stroke="#262626" stroke-width="0.18" >protein-protein PCC</text>
<text x="7" y="438.3" font-size="9.4" text-anchor="middle" fill="#262626" transform="rotate(-90 7 438.3)" dy="3.3">cell-cell PCC</text>
<line x1="305.4" y1="341.4" x2="305.4" y2="527.4" stroke="#a9a9a9" stroke-width="1.15" stroke-dasharray="6.8,3.8"/>
<line x1="262.3" y1="467.4" x2="449.3" y2="467.4" stroke="#a9a9a9" stroke-width="1.15" stroke-dasharray="6.8,3.8"/>
<g stroke="#819fd6" stroke-width="1.45" opacity="0.5"><line x1="271.7" y1="438" x2="331.2" y2="438"/><line x1="271.7" y1="436" x2="271.7" y2="440"/><line x1="331.2" y1="436" x2="331.2" y2="440"/><g opacity="1.0"><line x1="302.4" y1="399.7" x2="302.4" y2="470"/><line x1="300.4" y1="399.7" x2="304.4" y2="399.7"/><line x1="300.4" y1="470" x2="304.4" y2="470"/></g></g>
<g stroke="#da975c" stroke-width="1.45" opacity="0.5"><line x1="273" y1="456" x2="293.9" y2="456"/><line x1="273" y1="454" x2="273" y2="458"/><line x1="293.9" y1="454" x2="293.9" y2="458"/><g opacity="1.0"><line x1="283.6" y1="433.8" x2="283.6" y2="477.8"/><line x1="281.6" y1="433.8" x2="285.6" y2="433.8"/><line x1="281.6" y1="477.8" x2="285.6" y2="477.8"/></g></g>
<g stroke="#b7a5d1" stroke-width="1.45" opacity="0.5"><line x1="283.1" y1="464.3" x2="300.5" y2="464.3"/><line x1="283.1" y1="462.3" x2="283.1" y2="466.3"/><line x1="300.5" y1="462.3" x2="300.5" y2="466.3"/><g opacity="1.0"><line x1="291.4" y1="444.6" x2="291.4" y2="485.4"/><line x1="289.4" y1="444.6" x2="293.4" y2="444.6"/><line x1="289.4" y1="485.4" x2="293.4" y2="485.4"/></g></g>
<g stroke="#dc7672" stroke-width="1.45" opacity="0.5"><line x1="295" y1="463" x2="328" y2="463"/><line x1="295" y1="461" x2="295" y2="465"/><line x1="328" y1="461" x2="328" y2="465"/><g opacity="0.5"><line x1="312.5" y1="441.7" x2="312.5" y2="488"/><line x1="310.5" y1="441.7" x2="314.5" y2="441.7"/><line x1="310.5" y1="488" x2="314.5" y2="488"/></g></g>
<g stroke="#6a9ad6" stroke-width="1.45" opacity="0.5"><line x1="295" y1="463.5" x2="335" y2="463.5"/><line x1="295" y1="461.5" x2="295" y2="465.5"/><line x1="335" y1="461.5" x2="335" y2="465.5"/><g opacity="1.0"><line x1="313.5" y1="445" x2="313.5" y2="485"/><line x1="311.5" y1="445" x2="315.5" y2="445"/><line x1="311.5" y1="485" x2="315.5" y2="485"/></g></g>
<g stroke="#dba1c9" stroke-width="1.45" opacity="0.5"><line x1="300" y1="466.6" x2="345" y2="466.6"/><line x1="300" y1="464.6" x2="300" y2="468.6"/><line x1="345" y1="464.6" x2="345" y2="468.6"/><g opacity="1.0"><line x1="319.9" y1="450" x2="319.9" y2="485"/><line x1="317.9" y1="450" x2="321.9" y2="450"/><line x1="317.9" y1="485" x2="321.9" y2="485"/></g></g>
<g stroke="#7bc788" stroke-width="1.45" opacity="0.5"><line x1="308.1" y1="471.8" x2="347.4" y2="471.8"/><line x1="308.1" y1="469.8" x2="308.1" y2="473.8"/><line x1="347.4" y1="469.8" x2="347.4" y2="473.8"/><g opacity="1.0"><line x1="327.3" y1="453.1" x2="327.3" y2="490.1"/><line x1="325.3" y1="453.1" x2="329.3" y2="453.1"/><line x1="325.3" y1="490.1" x2="329.3" y2="490.1"/></g></g>
<g stroke="#e0bc7b" stroke-width="1.45" opacity="0.5"><line x1="282.6" y1="475.5" x2="321.3" y2="475.5"/><line x1="282.6" y1="473.5" x2="282.6" y2="477.5"/><line x1="321.3" y1="473.5" x2="321.3" y2="477.5"/><g opacity="1.0"><line x1="303.5" y1="452" x2="303.5" y2="495.8"/><line x1="301.5" y1="452" x2="305.5" y2="452"/><line x1="301.5" y1="495.8" x2="305.5" y2="495.8"/></g></g>
<g stroke="#8ad1be" stroke-width="1.45" opacity="0.5"><line x1="284.8" y1="478.2" x2="325.7" y2="478.2"/><line x1="284.8" y1="476.2" x2="284.8" y2="480.2"/><line x1="325.7" y1="476.2" x2="325.7" y2="480.2"/><g opacity="1.0"><line x1="305.5" y1="460" x2="305.5" y2="500"/><line x1="303.5" y1="460" x2="307.5" y2="460"/><line x1="303.5" y1="500" x2="307.5" y2="500"/></g></g>
<g stroke="#d9d588" stroke-width="1.45" opacity="0.5"><line x1="276.5" y1="487.2" x2="318.4" y2="487.2"/><line x1="276.5" y1="485.2" x2="276.5" y2="489.2"/><line x1="318.4" y1="485.2" x2="318.4" y2="489.2"/><g opacity="1.0"><line x1="296.6" y1="475" x2="296.6" y2="501.9"/><line x1="294.6" y1="475" x2="298.6" y2="475"/><line x1="294.6" y1="501.9" x2="298.6" y2="501.9"/></g></g>
<g stroke="#5ac8b4" stroke-width="1.45" opacity="0.5"><line x1="289" y1="496.2" x2="334.6" y2="496.2"/><line x1="289" y1="494.2" x2="289" y2="498.2"/><line x1="334.6" y1="494.2" x2="334.6" y2="498.2"/><g opacity="1.0"><line x1="311.7" y1="479.7" x2="311.7" y2="513.6"/><line x1="309.7" y1="479.7" x2="313.7" y2="479.7"/><line x1="309.7" y1="513.6" x2="313.7" y2="513.6"/></g></g>
<rect x="299.6" y="435.2" width="5.6" height="5.6" rx="1.3" fill="#819fd6" opacity="0.88"/>
<rect x="280.8" y="453.2" width="5.6" height="5.6" rx="1.3" fill="#da975c" opacity="0.88"/>
<rect x="288.6" y="461.5" width="5.6" height="5.6" rx="1.3" fill="#b7a5d1" opacity="0.88"/>
<rect x="309.7" y="460.2" width="5.6" height="5.6" rx="1.3" fill="#dc7672" opacity="0.88"/>
<rect x="310.7" y="460.7" width="5.6" height="5.6" rx="1.3" fill="#6a9ad6" opacity="0.88"/>
<rect x="317.1" y="463.8" width="5.6" height="5.6" rx="1.3" fill="#dba1c9" opacity="0.88"/>
<rect x="324.5" y="469" width="5.6" height="5.6" rx="1.3" fill="#7bc788" opacity="0.88"/>
<rect x="300.7" y="472.7" width="5.6" height="5.6" rx="1.3" fill="#e0bc7b" opacity="0.88"/>
<rect x="302.7" y="475.4" width="5.6" height="5.6" rx="1.3" fill="#8ad1be" opacity="0.88"/>
<rect x="293.8" y="484.4" width="5.6" height="5.6" rx="1.3" fill="#d9d588" opacity="0.88"/>
<rect x="308.9" y="493.4" width="5.6" height="5.6" rx="1.3" fill="#5ac8b4" opacity="0.88"/>
<line x1="273.4" y1="413" x2="281.97" y2="446.93" stroke="#6a6a6a" stroke-width="1" stroke-dasharray="1.3,1.4"/>
<polygon points="283,451 279.5,446.52 281.8,446.25 283.96,445.4" fill="#505050"/>
<line x1="297" y1="428" x2="292.65" y2="455.85" stroke="#6a6a6a" stroke-width="1" stroke-dasharray="1.3,1.4"/>
<polygon points="292,460 290.53,454.51 292.76,455.16 295.08,455.22" fill="#505050"/>
<line x1="320" y1="433" x2="311.01" y2="435.76" stroke="#6a6a6a" stroke-width="1" stroke-dasharray="1.3,1.4"/>
<polygon points="307,437 311.29,433.27 311.68,435.56 312.65,437.67" fill="#505050"/>
<line x1="336" y1="446" x2="319.44" y2="457.59" stroke="#6a6a6a" stroke-width="1" stroke-dasharray="1.3,1.4"/>
<polygon points="316,460 318.94,455.13 320.01,457.19 321.58,458.9" fill="#505050"/>
<line x1="334.7" y1="455" x2="323.34" y2="460.01" stroke="#6a6a6a" stroke-width="1" stroke-dasharray="1.3,1.4"/>
<polygon points="319.5,461.7 323.33,457.5 323.98,459.72 325.19,461.71" fill="#505050"/>
<line x1="345" y1="462" x2="329.07" y2="465.98" stroke="#6a6a6a" stroke-width="1" stroke-dasharray="1.3,1.4"/>
<polygon points="325,467 329.49,463.51 329.75,465.81 330.6,467.97" fill="#505050"/>
<line x1="350" y1="478" x2="336.05" y2="474.12" stroke="#6a6a6a" stroke-width="1" stroke-dasharray="1.3,1.4"/>
<polygon points="332,473 337.63,472.18 336.72,474.31 336.39,476.61" fill="#505050"/>
<line x1="331.5" y1="484.8" x2="314.23" y2="477.02" stroke="#6a6a6a" stroke-width="1" stroke-dasharray="1.3,1.4"/>
<polygon points="310.4,475.3 316.09,475.34 314.87,477.31 314.2,479.53" fill="#505050"/>
<line x1="324.2" y1="499.4" x2="312.29" y2="485.13" stroke="#6a6a6a" stroke-width="1" stroke-dasharray="1.3,1.4"/>
<polygon points="309.6,481.9 314.7,484.42 312.74,485.66 311.17,487.37" fill="#505050"/>
<line x1="289.2" y1="502.3" x2="293.87" y2="495.29" stroke="#6a6a6a" stroke-width="1" stroke-dasharray="1.3,1.4"/>
<polygon points="296.2,491.8 295.23,497.4 293.48,495.88 291.4,494.85" fill="#505050"/>
<line x1="320.6" y1="509.6" x2="316.92" y2="503.67" stroke="#6a6a6a" stroke-width="1" stroke-dasharray="1.3,1.4"/>
<polygon points="314.7,500.1 319.4,503.3 317.29,504.26 315.49,505.73" fill="#505050"/>
<text transform="translate(266 411) scale(1 1.06)" font-size="9.4" text-anchor="start" font-weight="normal" fill="#262626" stroke="#262626" stroke-width="0.18" >Guanlab-d.</text>
<text transform="translate(285.4 427.1) scale(1 1.06)" font-size="9.4" text-anchor="start" font-weight="normal" fill="#262626" stroke="#262626" stroke-width="0.18" >BABEL</text>
<text transform="translate(320.5 433.4) scale(1 1.06)" font-size="9.4" text-anchor="start" font-weight="normal" fill="#262626" stroke="#262626" stroke-width="0.18" >sciPENN</text>
<text transform="translate(333.8 445.2) scale(1 1.06)" font-size="9.4" text-anchor="start" font-weight="normal" fill="#262626" stroke="#262626" stroke-width="0.18" >scMoGNN</text>
<text transform="translate(334.7 454.6) scale(1 1.06)" font-size="9.4" text-anchor="start" font-weight="normal" fill="#262626" stroke="#262626" stroke-width="0.18" >LIGER</text>
<text transform="translate(343.3 463.8) scale(1 1.06)" font-size="9.4" text-anchor="start" font-weight="normal" fill="#262626" stroke="#262626" stroke-width="0.18" >CMAE</text>
<text transform="translate(348 483.1) scale(1 1.06)" font-size="9.4" text-anchor="start" font-weight="normal" fill="#262626" stroke="#262626" stroke-width="0.18" >cTP-net</text>
<text transform="translate(330.8 491.2) scale(1 1.06)" font-size="9.4" text-anchor="start" font-weight="normal" fill="#262626" stroke="#262626" stroke-width="0.18" >scArches</text>
<text transform="translate(323.6 507.2) scale(1 1.06)" font-size="9.4" text-anchor="start" font-weight="normal" fill="#262626" stroke="#262626" stroke-width="0.18" >Seurat</text>
<text transform="translate(266.9 514.6) scale(1 1.06)" font-size="9.4" text-anchor="start" font-weight="normal" fill="#262626" stroke="#262626" stroke-width="0.18" >totalVI</text>
<text transform="translate(319 519.3) scale(1 1.06)" font-size="9.4" text-anchor="start" font-weight="normal" fill="#262626" stroke="#262626" stroke-width="0.18" >scVAEIT</text>
<line x1="262.3" y1="341.4" x2="262.3" y2="527.9" stroke="#474747" stroke-width="1.1" />
<line x1="261.8" y1="527.4" x2="449.3" y2="527.4" stroke="#474747" stroke-width="1.1" />
<line x1="263.5" y1="527.4" x2="263.5" y2="529.6" stroke="#474747" stroke-width="1" />
<text transform="translate(263.5 538.4) scale(1 1.06)" font-size="9.4" text-anchor="middle" font-weight="normal" fill="#262626" stroke="#262626" stroke-width="0.18" >0.0</text>
<line x1="286.72" y1="527.4" x2="286.72" y2="529.6" stroke="#474747" stroke-width="1" />
<text transform="translate(286.72 538.4) scale(1 1.06)" font-size="9.4" text-anchor="middle" font-weight="normal" fill="#262626" stroke="#262626" stroke-width="0.18" >0.1</text>
<line x1="309.94" y1="527.4" x2="309.94" y2="529.6" stroke="#474747" stroke-width="1" />
<text transform="translate(309.94 538.4) scale(1 1.06)" font-size="9.4" text-anchor="middle" font-weight="normal" fill="#262626" stroke="#262626" stroke-width="0.18" >0.2</text>
<line x1="333.16" y1="527.4" x2="333.16" y2="529.6" stroke="#474747" stroke-width="1" />
<text transform="translate(333.16 538.4) scale(1 1.06)" font-size="9.4" text-anchor="middle" font-weight="normal" fill="#262626" stroke="#262626" stroke-width="0.18" >0.3</text>
<line x1="356.38" y1="527.4" x2="356.38" y2="529.6" stroke="#474747" stroke-width="1" />
<text transform="translate(356.38 538.4) scale(1 1.06)" font-size="9.4" text-anchor="middle" font-weight="normal" fill="#262626" stroke="#262626" stroke-width="0.18" >0.4</text>
<line x1="379.6" y1="527.4" x2="379.6" y2="529.6" stroke="#474747" stroke-width="1" />
<text transform="translate(379.6 538.4) scale(1 1.06)" font-size="9.4" text-anchor="middle" font-weight="normal" fill="#262626" stroke="#262626" stroke-width="0.18" >0.5</text>
<line x1="402.82" y1="527.4" x2="402.82" y2="529.6" stroke="#474747" stroke-width="1" />
<text transform="translate(402.82 538.4) scale(1 1.06)" font-size="9.4" text-anchor="middle" font-weight="normal" fill="#262626" stroke="#262626" stroke-width="0.18" >0.6</text>
<line x1="426.04" y1="527.4" x2="426.04" y2="529.6" stroke="#474747" stroke-width="1" />
<text transform="translate(426.04 538.4) scale(1 1.06)" font-size="9.4" text-anchor="middle" font-weight="normal" fill="#262626" stroke="#262626" stroke-width="0.18" >0.7</text>
<line x1="449.26" y1="527.4" x2="449.26" y2="529.6" stroke="#474747" stroke-width="1" />
<text transform="translate(449.26 538.4) scale(1 1.06)" font-size="9.4" text-anchor="middle" font-weight="normal" fill="#262626" stroke="#262626" stroke-width="0.18" >0.8</text>
<line x1="260.1" y1="527.3" x2="262.3" y2="527.3" stroke="#474747" stroke-width="1" />
<text transform="translate(257.3 530.6) scale(1 1.06)" font-size="9.4" text-anchor="end" font-weight="normal" fill="#262626" stroke="#262626" stroke-width="0.18" >0.0</text>
<line x1="260.1" y1="504.2" x2="262.3" y2="504.2" stroke="#474747" stroke-width="1" />
<text transform="translate(257.3 507.5) scale(1 1.06)" font-size="9.4" text-anchor="end" font-weight="normal" fill="#262626" stroke="#262626" stroke-width="0.18" >0.1</text>
<line x1="260.1" y1="481.1" x2="262.3" y2="481.1" stroke="#474747" stroke-width="1" />
<text transform="translate(257.3 484.4) scale(1 1.06)" font-size="9.4" text-anchor="end" font-weight="normal" fill="#262626" stroke="#262626" stroke-width="0.18" >0.2</text>
<line x1="260.1" y1="458" x2="262.3" y2="458" stroke="#474747" stroke-width="1" />
<text transform="translate(257.3 461.3) scale(1 1.06)" font-size="9.4" text-anchor="end" font-weight="normal" fill="#262626" stroke="#262626" stroke-width="0.18" >0.3</text>
<line x1="260.1" y1="434.9" x2="262.3" y2="434.9" stroke="#474747" stroke-width="1" />
<text transform="translate(257.3 438.2) scale(1 1.06)" font-size="9.4" text-anchor="end" font-weight="normal" fill="#262626" stroke="#262626" stroke-width="0.18" >0.4</text>
<line x1="260.1" y1="411.8" x2="262.3" y2="411.8" stroke="#474747" stroke-width="1" />
<text transform="translate(257.3 415.1) scale(1 1.06)" font-size="9.4" text-anchor="end" font-weight="normal" fill="#262626" stroke="#262626" stroke-width="0.18" >0.5</text>
<line x1="260.1" y1="388.7" x2="262.3" y2="388.7" stroke="#474747" stroke-width="1" />
<text transform="translate(257.3 392) scale(1 1.06)" font-size="9.4" text-anchor="end" font-weight="normal" fill="#262626" stroke="#262626" stroke-width="0.18" >0.6</text>
<line x1="260.1" y1="365.6" x2="262.3" y2="365.6" stroke="#474747" stroke-width="1" />
<text transform="translate(257.3 368.9) scale(1 1.06)" font-size="9.4" text-anchor="end" font-weight="normal" fill="#262626" stroke="#262626" stroke-width="0.18" >0.7</text>
<line x1="260.1" y1="342.5" x2="262.3" y2="342.5" stroke="#474747" stroke-width="1" />
<text transform="translate(257.3 345.8) scale(1 1.06)" font-size="9.4" text-anchor="end" font-weight="normal" fill="#262626" stroke="#262626" stroke-width="0.18" >0.8</text>
<text transform="translate(351 551.9) scale(1 1.06)" font-size="9.4" text-anchor="middle" font-weight="normal" fill="#262626" stroke="#262626" stroke-width="0.18" >protein-protein CMD</text>
<text x="239" y="434" font-size="9.4" text-anchor="middle" fill="#262626" transform="rotate(-90 239 434)" dy="3.3">cell-cell CMD</text>
<rect x="491.8" y="270.8" width="13.7" height="59.5" fill="#d9d588"/>
<rect x="508.85" y="294.6" width="13.7" height="35.7" fill="#e0bc7b"/>
<rect x="525.9" y="306.5" width="13.7" height="23.8" fill="#da975c"/>
<rect x="542.95" y="294.6" width="13.7" height="35.7" fill="#819fd6"/>
<rect x="560" y="329.11" width="13.7" height="1.19" fill="#dc7672"/>
<rect x="577.05" y="294.6" width="13.7" height="35.7" fill="#8ad1be"/>
<rect x="594.1" y="306.5" width="13.7" height="23.8" fill="#b7a5d1"/>
<rect x="611.15" y="294.6" width="13.7" height="35.7" fill="#5ac8b4"/>
<rect x="628.2" y="306.5" width="13.7" height="23.8" fill="#7bc788"/>
<rect x="645.25" y="306.5" width="13.7" height="23.8" fill="#dba1c9"/>
<rect x="662.3" y="329.11" width="13.7" height="1.19" fill="#6a9ad6"/>
<line x1="490.6" y1="267.6" x2="490.6" y2="330.8" stroke="#707070" stroke-width="1.0" />
<line x1="490.1" y1="330.3" x2="677.7" y2="330.3" stroke="#505050" stroke-width="1.1" />
<line x1="488.4" y1="330.3" x2="490.6" y2="330.3" stroke="#474747" stroke-width="1" />
<text transform="translate(486.6 335) scale(1 1.06)" font-size="9.8" text-anchor="end" font-weight="normal" fill="#262626" stroke="#262626" stroke-width="0.18" >0</text>
<line x1="488.4" y1="318.4" x2="490.6" y2="318.4" stroke="#474747" stroke-width="1" />
<text transform="translate(486.6 323.1) scale(1 1.06)" font-size="9.8" text-anchor="end" font-weight="normal" fill="#262626" stroke="#262626" stroke-width="0.18" >1</text>
<line x1="488.4" y1="306.5" x2="490.6" y2="306.5" stroke="#474747" stroke-width="1" />
<text transform="translate(486.6 311.2) scale(1 1.06)" font-size="9.8" text-anchor="end" font-weight="normal" fill="#262626" stroke="#262626" stroke-width="0.18" >2</text>
<line x1="488.4" y1="294.6" x2="490.6" y2="294.6" stroke="#474747" stroke-width="1" />
<text transform="translate(486.6 299.3) scale(1 1.06)" font-size="9.8" text-anchor="end" font-weight="normal" fill="#262626" stroke="#262626" stroke-width="0.18" >3</text>
<line x1="488.4" y1="282.7" x2="490.6" y2="282.7" stroke="#474747" stroke-width="1" />
<text transform="translate(486.6 287.4) scale(1 1.06)" font-size="9.8" text-anchor="end" font-weight="normal" fill="#262626" stroke="#262626" stroke-width="0.18" >4</text>
<line x1="488.4" y1="270.8" x2="490.6" y2="270.8" stroke="#474747" stroke-width="1" />
<text transform="translate(486.6 275.5) scale(1 1.06)" font-size="9.8" text-anchor="end" font-weight="normal" fill="#262626" stroke="#262626" stroke-width="0.18" >5</text>
<line x1="498.65" y1="330.3" x2="498.65" y2="332.5" stroke="#474747" stroke-width="1" />
<text x="504.65" y="339.3" font-size="9.4" text-anchor="end" fill="#262626" transform="rotate(-30 504.65 339.3)">totalVI</text>
<line x1="515.7" y1="330.3" x2="515.7" y2="332.5" stroke="#474747" stroke-width="1" />
<text x="522.2" y="339.3" font-size="9.4" text-anchor="end" fill="#262626" transform="rotate(-30 522.2 339.3)">scArches</text>
<line x1="532.75" y1="330.3" x2="532.75" y2="332.5" stroke="#474747" stroke-width="1" />
<text x="539.25" y="339.3" font-size="9.4" text-anchor="end" fill="#262626" transform="rotate(-30 539.25 339.3)">Guanlab-d.</text>
<line x1="549.8" y1="330.3" x2="549.8" y2="332.5" stroke="#474747" stroke-width="1" />
<text x="554.8" y="339.3" font-size="9.4" text-anchor="end" fill="#262626" transform="rotate(-30 554.8 339.3)">sciPENN</text>
<line x1="566.85" y1="330.3" x2="566.85" y2="332.5" stroke="#474747" stroke-width="1" />
<text x="571.35" y="339.3" font-size="9.4" text-anchor="end" fill="#262626" transform="rotate(-30 571.35 339.3)">scMoGNN</text>
<line x1="583.9" y1="330.3" x2="583.9" y2="332.5" stroke="#474747" stroke-width="1" />
<text x="588.4" y="339.3" font-size="9.4" text-anchor="end" fill="#262626" transform="rotate(-30 588.4 339.3)">Seurat</text>
<line x1="600.95" y1="330.3" x2="600.95" y2="332.5" stroke="#474747" stroke-width="1" />
<text x="605.45" y="339.3" font-size="9.4" text-anchor="end" fill="#262626" transform="rotate(-30 605.45 339.3)">BABEL</text>
<line x1="618" y1="330.3" x2="618" y2="332.5" stroke="#474747" stroke-width="1" />
<text x="622.5" y="339.3" font-size="9.4" text-anchor="end" fill="#262626" transform="rotate(-30 622.5 339.3)">scVAEIT</text>
<line x1="635.05" y1="330.3" x2="635.05" y2="332.5" stroke="#474747" stroke-width="1" />
<text x="639.55" y="339.3" font-size="9.4" text-anchor="end" fill="#262626" transform="rotate(-30 639.55 339.3)">cTP-net</text>
<line x1="652.1" y1="330.3" x2="652.1" y2="332.5" stroke="#474747" stroke-width="1" />
<text x="656.6" y="339.3" font-size="9.4" text-anchor="end" fill="#262626" transform="rotate(-30 656.6 339.3)">CMAE</text>
<line x1="669.15" y1="330.3" x2="669.15" y2="332.5" stroke="#474747" stroke-width="1" />
<text x="677.15" y="339.3" font-size="9.4" text-anchor="end" fill="#262626" transform="rotate(-30 677.15 339.3)">LIGER</text>
<text transform="translate(590 272.5) scale(1 1.06)" font-size="9.4" text-anchor="middle" font-weight="normal" fill="#262626" stroke="#262626" stroke-width="0.18" >Intra-dataset scenario</text>
<text x="470.4" y="302.8" font-size="9.4" text-anchor="middle" fill="#262626" transform="rotate(-90 470.4 302.8)" dy="3.3">RI</text>
<rect x="491.8" y="370.55" width="13.7" height="59.75" fill="#d9d588"/>
<rect x="508.85" y="382.5" width="13.7" height="47.8" fill="#e0bc7b"/>
<rect x="525.9" y="394.45" width="13.7" height="35.85" fill="#da975c"/>
<rect x="542.95" y="394.45" width="13.7" height="35.85" fill="#819fd6"/>
<rect x="560" y="418.35" width="13.7" height="11.95" fill="#dc7672"/>
<rect x="577.05" y="394.45" width="13.7" height="35.85" fill="#8ad1be"/>
<rect x="594.1" y="418.35" width="13.7" height="11.95" fill="#b7a5d1"/>
<rect x="611.15" y="406.4" width="13.7" height="23.9" fill="#5ac8b4"/>
<rect x="628.2" y="394.45" width="13.7" height="35.85" fill="#7bc788"/>
<rect x="645.25" y="429.11" width="13.7" height="1.2" fill="#dba1c9"/>
<rect x="662.3" y="429.11" width="13.7" height="1.2" fill="#6a9ad6"/>
<line x1="490.6" y1="367.3" x2="490.6" y2="430.8" stroke="#707070" stroke-width="1.0" />
<line x1="490.1" y1="430.3" x2="677.7" y2="430.3" stroke="#505050" stroke-width="1.1" />
<line x1="488.4" y1="430.3" x2="490.6" y2="430.3" stroke="#474747" stroke-width="1" />
<text transform="translate(486.6 435) scale(1 1.06)" font-size="9.8" text-anchor="end" font-weight="normal" fill="#262626" stroke="#262626" stroke-width="0.18" >0</text>
<line x1="488.4" y1="418.35" x2="490.6" y2="418.35" stroke="#474747" stroke-width="1" />
<text transform="translate(486.6 423.05) scale(1 1.06)" font-size="9.8" text-anchor="end" font-weight="normal" fill="#262626" stroke="#262626" stroke-width="0.18" >1</text>
<line x1="488.4" y1="406.4" x2="490.6" y2="406.4" stroke="#474747" stroke-width="1" />
<text transform="translate(486.6 411.1) scale(1 1.06)" font-size="9.8" text-anchor="end" font-weight="normal" fill="#262626" stroke="#262626" stroke-width="0.18" >2</text>
<line x1="488.4" y1="394.45" x2="490.6" y2="394.45" stroke="#474747" stroke-width="1" />
<text transform="translate(486.6 399.15) scale(1 1.06)" font-size="9.8" text-anchor="end" font-weight="normal" fill="#262626" stroke="#262626" stroke-width="0.18" >3</text>
<line x1="488.4" y1="382.5" x2="490.6" y2="382.5" stroke="#474747" stroke-width="1" />
<text transform="translate(486.6 387.2) scale(1 1.06)" font-size="9.8" text-anchor="end" font-weight="normal" fill="#262626" stroke="#262626" stroke-width="0.18" >4</text>
<line x1="488.4" y1="370.55" x2="490.6" y2="370.55" stroke="#474747" stroke-width="1" />
<text transform="translate(486.6 375.25) scale(1 1.06)" font-size="9.8" text-anchor="end" font-weight="normal" fill="#262626" stroke="#262626" stroke-width="0.18" >5</text>
<line x1="498.65" y1="430.3" x2="498.65" y2="432.5" stroke="#474747" stroke-width="1" />
<text x="504.65" y="439.3" font-size="9.4" text-anchor="end" fill="#262626" transform="rotate(-30 504.65 439.3)">totalVI</text>
<line x1="515.7" y1="430.3" x2="515.7" y2="432.5" stroke="#474747" stroke-width="1" />
<text x="522.2" y="439.3" font-size="9.4" text-anchor="end" fill="#262626" transform="rotate(-30 522.2 439.3)">scArches</text>
<line x1="532.75" y1="430.3" x2="532.75" y2="432.5" stroke="#474747" stroke-width="1" />
<text x="539.25" y="439.3" font-size="9.4" text-anchor="end" fill="#262626" transform="rotate(-30 539.25 439.3)">Guanlab-d.</text>
<line x1="549.8" y1="430.3" x2="549.8" y2="432.5" stroke="#474747" stroke-width="1" />
<text x="554.8" y="439.3" font-size="9.4" text-anchor="end" fill="#262626" transform="rotate(-30 554.8 439.3)">sciPENN</text>
<line x1="566.85" y1="430.3" x2="566.85" y2="432.5" stroke="#474747" stroke-width="1" />
<text x="571.35" y="439.3" font-size="9.4" text-anchor="end" fill="#262626" transform="rotate(-30 571.35 439.3)">scMoGNN</text>
<line x1="583.9" y1="430.3" x2="583.9" y2="432.5" stroke="#474747" stroke-width="1" />
<text x="588.4" y="439.3" font-size="9.4" text-anchor="end" fill="#262626" transform="rotate(-30 588.4 439.3)">Seurat</text>
<line x1="600.95" y1="430.3" x2="600.95" y2="432.5" stroke="#474747" stroke-width="1" />
<text x="605.45" y="439.3" font-size="9.4" text-anchor="end" fill="#262626" transform="rotate(-30 605.45 439.3)">BABEL</text>
<line x1="618" y1="430.3" x2="618" y2="432.5" stroke="#474747" stroke-width="1" />
<text x="622.5" y="439.3" font-size="9.4" text-anchor="end" fill="#262626" transform="rotate(-30 622.5 439.3)">scVAEIT</text>
<line x1="635.05" y1="430.3" x2="635.05" y2="432.5" stroke="#474747" stroke-width="1" />
<text x="639.55" y="439.3" font-size="9.4" text-anchor="end" fill="#262626" transform="rotate(-30 639.55 439.3)">cTP-net</text>
<line x1="652.1" y1="430.3" x2="652.1" y2="432.5" stroke="#474747" stroke-width="1" />
<text x="656.6" y="439.3" font-size="9.4" text-anchor="end" fill="#262626" transform="rotate(-30 656.6 439.3)">CMAE</text>
<line x1="669.15" y1="430.3" x2="669.15" y2="432.5" stroke="#474747" stroke-width="1" />
<text x="677.15" y="439.3" font-size="9.4" text-anchor="end" fill="#262626" transform="rotate(-30 677.15 439.3)">LIGER</text>
<text transform="translate(590 371.3) scale(1 1.06)" font-size="9.4" text-anchor="middle" font-weight="normal" fill="#262626" stroke="#262626" stroke-width="0.18" >Inter-dataset scenario</text>
<text x="470.4" y="399.1" font-size="9.4" text-anchor="middle" fill="#262626" transform="rotate(-90 470.4 399.1)" dy="3.3">RI</text>
<rect x="491.8" y="468.5" width="13.7" height="59.3" fill="#d9d588"/>
<rect x="508.85" y="486.29" width="13.7" height="41.51" fill="#e0bc7b"/>
<rect x="525.9" y="498.15" width="13.7" height="29.65" fill="#da975c"/>
<rect x="542.95" y="492.22" width="13.7" height="35.58" fill="#819fd6"/>
<rect x="560" y="521.87" width="13.7" height="5.93" fill="#dc7672"/>
<rect x="577.05" y="492.22" width="13.7" height="35.58" fill="#8ad1be"/>
<rect x="594.1" y="510.01" width="13.7" height="17.79" fill="#b7a5d1"/>
<rect x="611.15" y="498.15" width="13.7" height="29.65" fill="#5ac8b4"/>
<rect x="628.2" y="498.15" width="13.7" height="29.65" fill="#7bc788"/>
<rect x="645.25" y="515.94" width="13.7" height="11.86" fill="#dba1c9"/>
<rect x="662.3" y="526.8" width="13.7" height="1" fill="#6a9ad6"/>
<line x1="490.6" y1="465.7" x2="490.6" y2="528.3" stroke="#707070" stroke-width="1.0" />
<line x1="490.1" y1="527.8" x2="677.7" y2="527.8" stroke="#505050" stroke-width="1.1" />
<line x1="488.4" y1="527.8" x2="490.6" y2="527.8" stroke="#474747" stroke-width="1" />
<text transform="translate(486.6 532.5) scale(1 1.06)" font-size="9.8" text-anchor="end" font-weight="normal" fill="#262626" stroke="#262626" stroke-width="0.18" >0</text>
<line x1="488.4" y1="515.94" x2="490.6" y2="515.94" stroke="#474747" stroke-width="1" />
<text transform="translate(486.6 520.64) scale(1 1.06)" font-size="9.8" text-anchor="end" font-weight="normal" fill="#262626" stroke="#262626" stroke-width="0.18" >2</text>
<line x1="488.4" y1="504.08" x2="490.6" y2="504.08" stroke="#474747" stroke-width="1" />
<text transform="translate(486.6 508.78) scale(1 1.06)" font-size="9.8" text-anchor="end" font-weight="normal" fill="#262626" stroke="#262626" stroke-width="0.18" >4</text>
<line x1="488.4" y1="492.22" x2="490.6" y2="492.22" stroke="#474747" stroke-width="1" />
<text transform="translate(486.6 496.92) scale(1 1.06)" font-size="9.8" text-anchor="end" font-weight="normal" fill="#262626" stroke="#262626" stroke-width="0.18" >6</text>
<line x1="488.4" y1="480.36" x2="490.6" y2="480.36" stroke="#474747" stroke-width="1" />
<text transform="translate(486.6 485.06) scale(1 1.06)" font-size="9.8" text-anchor="end" font-weight="normal" fill="#262626" stroke="#262626" stroke-width="0.18" >8</text>
<line x1="488.4" y1="468.5" x2="490.6" y2="468.5" stroke="#474747" stroke-width="1" />
<text transform="translate(486.6 473.2) scale(1 1.06)" font-size="9.8" text-anchor="end" font-weight="normal" fill="#262626" stroke="#262626" stroke-width="0.18" >10</text>
<line x1="498.65" y1="527.8" x2="498.65" y2="530" stroke="#474747" stroke-width="1" />
<text x="505.85" y="538" font-size="9.4" text-anchor="end" fill="#262626" transform="rotate(-30 505.85 538)">totalVI</text>
<line x1="515.7" y1="527.8" x2="515.7" y2="530" stroke="#474747" stroke-width="1" />
<text x="523.4" y="538" font-size="9.4" text-anchor="end" fill="#262626" transform="rotate(-30 523.4 538)">scArches</text>
<line x1="532.75" y1="527.8" x2="532.75" y2="530" stroke="#474747" stroke-width="1" />
<text x="540.45" y="538" font-size="9.4" text-anchor="end" fill="#262626" transform="rotate(-30 540.45 538)">Guanlab-d.</text>
<line x1="549.8" y1="527.8" x2="549.8" y2="530" stroke="#474747" stroke-width="1" />
<text x="556" y="538" font-size="9.4" text-anchor="end" fill="#262626" transform="rotate(-30 556 538)">sciPENN</text>
<line x1="566.85" y1="527.8" x2="566.85" y2="530" stroke="#474747" stroke-width="1" />
<text x="572.55" y="538" font-size="9.4" text-anchor="end" fill="#262626" transform="rotate(-30 572.55 538)">scMoGNN</text>
<line x1="583.9" y1="527.8" x2="583.9" y2="530" stroke="#474747" stroke-width="1" />
<text x="589.6" y="538" font-size="9.4" text-anchor="end" fill="#262626" transform="rotate(-30 589.6 538)">Seurat</text>
<line x1="600.95" y1="527.8" x2="600.95" y2="530" stroke="#474747" stroke-width="1" />
<text x="606.65" y="538" font-size="9.4" text-anchor="end" fill="#262626" transform="rotate(-30 606.65 538)">BABEL</text>
<line x1="618" y1="527.8" x2="618" y2="530" stroke="#474747" stroke-width="1" />
<text x="623.7" y="538" font-size="9.4" text-anchor="end" fill="#262626" transform="rotate(-30 623.7 538)">scVAEIT</text>
<line x1="635.05" y1="527.8" x2="635.05" y2="530" stroke="#474747" stroke-width="1" />
<text x="640.75" y="538" font-size="9.4" text-anchor="end" fill="#262626" transform="rotate(-30 640.75 538)">cTP-net</text>
<line x1="652.1" y1="527.8" x2="652.1" y2="530" stroke="#474747" stroke-width="1" />
<text x="657.8" y="538" font-size="9.4" text-anchor="end" fill="#262626" transform="rotate(-30 657.8 538)">CMAE</text>
<line x1="669.15" y1="527.8" x2="669.15" y2="530" stroke="#474747" stroke-width="1" />
<text x="678.35" y="538" font-size="9.4" text-anchor="end" fill="#262626" transform="rotate(-30 678.35 538)">LIGER</text>
<text transform="translate(590 471.8) scale(1 1.06)" font-size="9.4" text-anchor="middle" font-weight="normal" fill="#262626" stroke="#262626" stroke-width="0.18" >Overall performance</text>
<text x="470.4" y="497" font-size="9.4" text-anchor="middle" fill="#262626" transform="rotate(-90 470.4 497)" dy="3.3">RI</text>
<text transform="translate(1.6 30.8) scale(1 1.06)" font-size="9.8" text-anchor="start" font-weight="normal" fill="#262626" stroke="#262626" stroke-width="0.18" style="stroke-width:0.5px">a</text>
<text transform="translate(231.6 30.8) scale(1 1.06)" font-size="9.8" text-anchor="start" font-weight="normal" fill="#262626" stroke="#262626" stroke-width="0.18" style="stroke-width:0.5px">b</text>
<text transform="translate(461.3 30.6) scale(1 1.06)" font-size="9.8" text-anchor="start" font-weight="normal" fill="#262626" stroke="#262626" stroke-width="0.18" style="stroke-width:0.45px">e</text>
<text transform="translate(1.6 334) scale(1 1.06)" font-size="9.8" text-anchor="start" font-weight="normal" fill="#262626" stroke="#262626" stroke-width="0.18" style="stroke-width:0.5px">c</text>
<text transform="translate(231.7 333.8) scale(1 1.06)" font-size="9.8" text-anchor="start" font-weight="normal" fill="#262626" stroke="#262626" stroke-width="0.18" style="stroke-width:0.3px">d</text>
<text transform="translate(462 274.2) scale(1 1.06)" font-size="9.8" text-anchor="start" font-weight="normal" fill="#262626" stroke="#262626" stroke-width="0.18" style="stroke-width:0.3px">f</text>
<text transform="translate(461.8 371.5) scale(1 1.06)" font-size="9.8" text-anchor="start" font-weight="normal" fill="#262626" stroke="#262626" stroke-width="0.18" style="stroke-width:0.3px">g</text>
<text transform="translate(461.6 468.8) scale(1 1.06)" font-size="9.8" text-anchor="start" font-weight="normal" fill="#262626" stroke="#262626" stroke-width="0.18" style="stroke-width:0.3px">h</text>
<rect x="8" y="10" width="432" height="5" fill="url(#hl)" opacity="0.06"/>
<rect x="8" y="13.7" width="432" height="1.4" fill="url(#hl)"/>
<text transform="translate(224 9.1) scale(1 1.06)" font-size="9.4" text-anchor="middle" font-weight="normal" fill="#262626" stroke="#262626" stroke-width="0.18" >Intra-dataset scenario</text>
<rect x="8" y="315" width="432" height="5" fill="url(#hl)" opacity="0.06"/>
<rect x="8" y="318.5" width="432" height="1.4" fill="url(#hl)"/>
<text transform="translate(224 313) scale(1 1.06)" font-size="9.4" text-anchor="middle" font-weight="normal" fill="#262626" stroke="#262626" stroke-width="0.18" >Inter-dataset scenario</text></g></svg></body></html>
